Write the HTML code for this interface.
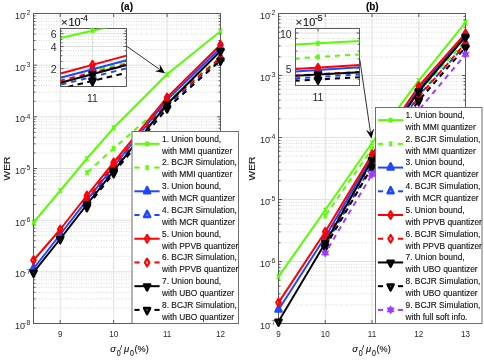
<!DOCTYPE html>
<html><head><meta charset="utf-8"><style>html,body{margin:0;padding:0;background:#fff;}body{width:484px;height:360px;overflow:hidden;}svg{display:block;will-change:transform;}</style></head>
<body>
<svg width="484" height="360" viewBox="0 0 484 360">
<rect width="484" height="360" fill="#fff"/>
<defs>
<clipPath id="ca"><rect x="33.5" y="13.5" width="187" height="310"/></clipPath>
<clipPath id="cb"><rect x="278.5" y="13.5" width="187" height="310"/></clipPath>
<clipPath id="cia"><rect x="60.5" y="28.5" width="66" height="58"/></clipPath>
<clipPath id="cib"><rect x="295.5" y="28.5" width="64" height="57"/></clipPath>
</defs>
<line x1="33.5" y1="49.61" x2="220.5" y2="49.61" stroke="#d9d9d9" stroke-width="1" stroke-dasharray="1 1.5"/>
<line x1="33.5" y1="40.52" x2="220.5" y2="40.52" stroke="#d9d9d9" stroke-width="1" stroke-dasharray="1 1.5"/>
<line x1="33.5" y1="34.06" x2="220.5" y2="34.06" stroke="#d9d9d9" stroke-width="1" stroke-dasharray="1 1.5"/>
<line x1="33.5" y1="29.05" x2="220.5" y2="29.05" stroke="#d9d9d9" stroke-width="1" stroke-dasharray="1 1.5"/>
<line x1="33.5" y1="24.96" x2="220.5" y2="24.96" stroke="#d9d9d9" stroke-width="1" stroke-dasharray="1 1.5"/>
<line x1="33.5" y1="21.5" x2="220.5" y2="21.5" stroke="#d9d9d9" stroke-width="1" stroke-dasharray="1 1.5"/>
<line x1="33.5" y1="18.51" x2="220.5" y2="18.51" stroke="#d9d9d9" stroke-width="1" stroke-dasharray="1 1.5"/>
<line x1="33.5" y1="15.86" x2="220.5" y2="15.86" stroke="#d9d9d9" stroke-width="1" stroke-dasharray="1 1.5"/>
<line x1="33.5" y1="101.28" x2="220.5" y2="101.28" stroke="#d9d9d9" stroke-width="1" stroke-dasharray="1 1.5"/>
<line x1="33.5" y1="92.18" x2="220.5" y2="92.18" stroke="#d9d9d9" stroke-width="1" stroke-dasharray="1 1.5"/>
<line x1="33.5" y1="85.73" x2="220.5" y2="85.73" stroke="#d9d9d9" stroke-width="1" stroke-dasharray="1 1.5"/>
<line x1="33.5" y1="80.72" x2="220.5" y2="80.72" stroke="#d9d9d9" stroke-width="1" stroke-dasharray="1 1.5"/>
<line x1="33.5" y1="76.63" x2="220.5" y2="76.63" stroke="#d9d9d9" stroke-width="1" stroke-dasharray="1 1.5"/>
<line x1="33.5" y1="73.17" x2="220.5" y2="73.17" stroke="#d9d9d9" stroke-width="1" stroke-dasharray="1 1.5"/>
<line x1="33.5" y1="70.17" x2="220.5" y2="70.17" stroke="#d9d9d9" stroke-width="1" stroke-dasharray="1 1.5"/>
<line x1="33.5" y1="67.53" x2="220.5" y2="67.53" stroke="#d9d9d9" stroke-width="1" stroke-dasharray="1 1.5"/>
<line x1="33.5" y1="152.95" x2="220.5" y2="152.95" stroke="#d9d9d9" stroke-width="1" stroke-dasharray="1 1.5"/>
<line x1="33.5" y1="143.85" x2="220.5" y2="143.85" stroke="#d9d9d9" stroke-width="1" stroke-dasharray="1 1.5"/>
<line x1="33.5" y1="137.39" x2="220.5" y2="137.39" stroke="#d9d9d9" stroke-width="1" stroke-dasharray="1 1.5"/>
<line x1="33.5" y1="132.39" x2="220.5" y2="132.39" stroke="#d9d9d9" stroke-width="1" stroke-dasharray="1 1.5"/>
<line x1="33.5" y1="128.3" x2="220.5" y2="128.3" stroke="#d9d9d9" stroke-width="1" stroke-dasharray="1 1.5"/>
<line x1="33.5" y1="124.84" x2="220.5" y2="124.84" stroke="#d9d9d9" stroke-width="1" stroke-dasharray="1 1.5"/>
<line x1="33.5" y1="121.84" x2="220.5" y2="121.84" stroke="#d9d9d9" stroke-width="1" stroke-dasharray="1 1.5"/>
<line x1="33.5" y1="119.2" x2="220.5" y2="119.2" stroke="#d9d9d9" stroke-width="1" stroke-dasharray="1 1.5"/>
<line x1="33.5" y1="204.61" x2="220.5" y2="204.61" stroke="#d9d9d9" stroke-width="1" stroke-dasharray="1 1.5"/>
<line x1="33.5" y1="195.52" x2="220.5" y2="195.52" stroke="#d9d9d9" stroke-width="1" stroke-dasharray="1 1.5"/>
<line x1="33.5" y1="189.06" x2="220.5" y2="189.06" stroke="#d9d9d9" stroke-width="1" stroke-dasharray="1 1.5"/>
<line x1="33.5" y1="184.05" x2="220.5" y2="184.05" stroke="#d9d9d9" stroke-width="1" stroke-dasharray="1 1.5"/>
<line x1="33.5" y1="179.96" x2="220.5" y2="179.96" stroke="#d9d9d9" stroke-width="1" stroke-dasharray="1 1.5"/>
<line x1="33.5" y1="176.5" x2="220.5" y2="176.5" stroke="#d9d9d9" stroke-width="1" stroke-dasharray="1 1.5"/>
<line x1="33.5" y1="173.51" x2="220.5" y2="173.51" stroke="#d9d9d9" stroke-width="1" stroke-dasharray="1 1.5"/>
<line x1="33.5" y1="170.86" x2="220.5" y2="170.86" stroke="#d9d9d9" stroke-width="1" stroke-dasharray="1 1.5"/>
<line x1="33.5" y1="256.28" x2="220.5" y2="256.28" stroke="#d9d9d9" stroke-width="1" stroke-dasharray="1 1.5"/>
<line x1="33.5" y1="247.18" x2="220.5" y2="247.18" stroke="#d9d9d9" stroke-width="1" stroke-dasharray="1 1.5"/>
<line x1="33.5" y1="240.73" x2="220.5" y2="240.73" stroke="#d9d9d9" stroke-width="1" stroke-dasharray="1 1.5"/>
<line x1="33.5" y1="235.72" x2="220.5" y2="235.72" stroke="#d9d9d9" stroke-width="1" stroke-dasharray="1 1.5"/>
<line x1="33.5" y1="231.63" x2="220.5" y2="231.63" stroke="#d9d9d9" stroke-width="1" stroke-dasharray="1 1.5"/>
<line x1="33.5" y1="228.17" x2="220.5" y2="228.17" stroke="#d9d9d9" stroke-width="1" stroke-dasharray="1 1.5"/>
<line x1="33.5" y1="225.17" x2="220.5" y2="225.17" stroke="#d9d9d9" stroke-width="1" stroke-dasharray="1 1.5"/>
<line x1="33.5" y1="222.53" x2="220.5" y2="222.53" stroke="#d9d9d9" stroke-width="1" stroke-dasharray="1 1.5"/>
<line x1="33.5" y1="307.95" x2="220.5" y2="307.95" stroke="#d9d9d9" stroke-width="1" stroke-dasharray="1 1.5"/>
<line x1="33.5" y1="298.85" x2="220.5" y2="298.85" stroke="#d9d9d9" stroke-width="1" stroke-dasharray="1 1.5"/>
<line x1="33.5" y1="292.39" x2="220.5" y2="292.39" stroke="#d9d9d9" stroke-width="1" stroke-dasharray="1 1.5"/>
<line x1="33.5" y1="287.39" x2="220.5" y2="287.39" stroke="#d9d9d9" stroke-width="1" stroke-dasharray="1 1.5"/>
<line x1="33.5" y1="283.3" x2="220.5" y2="283.3" stroke="#d9d9d9" stroke-width="1" stroke-dasharray="1 1.5"/>
<line x1="33.5" y1="279.84" x2="220.5" y2="279.84" stroke="#d9d9d9" stroke-width="1" stroke-dasharray="1 1.5"/>
<line x1="33.5" y1="276.84" x2="220.5" y2="276.84" stroke="#d9d9d9" stroke-width="1" stroke-dasharray="1 1.5"/>
<line x1="33.5" y1="274.2" x2="220.5" y2="274.2" stroke="#d9d9d9" stroke-width="1" stroke-dasharray="1 1.5"/>
<line x1="33.5" y1="13.5" x2="220.5" y2="13.5" stroke="#e0e0e0" stroke-width="1"/>
<line x1="33.5" y1="65.17" x2="220.5" y2="65.17" stroke="#e0e0e0" stroke-width="1"/>
<line x1="33.5" y1="116.83" x2="220.5" y2="116.83" stroke="#e0e0e0" stroke-width="1"/>
<line x1="33.5" y1="168.5" x2="220.5" y2="168.5" stroke="#e0e0e0" stroke-width="1"/>
<line x1="33.5" y1="220.17" x2="220.5" y2="220.17" stroke="#e0e0e0" stroke-width="1"/>
<line x1="33.5" y1="271.83" x2="220.5" y2="271.83" stroke="#e0e0e0" stroke-width="1"/>
<line x1="33.5" y1="323.5" x2="220.5" y2="323.5" stroke="#e0e0e0" stroke-width="1"/>
<line x1="60.21" y1="13.5" x2="60.21" y2="323.5" stroke="#e0e0e0" stroke-width="1"/>
<line x1="113.64" y1="13.5" x2="113.64" y2="323.5" stroke="#e0e0e0" stroke-width="1"/>
<line x1="167.07" y1="13.5" x2="167.07" y2="323.5" stroke="#e0e0e0" stroke-width="1"/>
<line x1="220.5" y1="13.5" x2="220.5" y2="323.5" stroke="#e0e0e0" stroke-width="1"/>
<rect x="33.5" y="13.5" width="187" height="310" fill="none" stroke="#5a5a5a" stroke-width="1"/>
<line x1="33.5" y1="13.5" x2="37" y2="13.5" stroke="#5a5a5a" stroke-width="1"/>
<line x1="217" y1="13.5" x2="220.5" y2="13.5" stroke="#5a5a5a" stroke-width="1"/>
<line x1="33.5" y1="65.17" x2="37" y2="65.17" stroke="#5a5a5a" stroke-width="1"/>
<line x1="217" y1="65.17" x2="220.5" y2="65.17" stroke="#5a5a5a" stroke-width="1"/>
<line x1="33.5" y1="116.83" x2="37" y2="116.83" stroke="#5a5a5a" stroke-width="1"/>
<line x1="217" y1="116.83" x2="220.5" y2="116.83" stroke="#5a5a5a" stroke-width="1"/>
<line x1="33.5" y1="168.5" x2="37" y2="168.5" stroke="#5a5a5a" stroke-width="1"/>
<line x1="217" y1="168.5" x2="220.5" y2="168.5" stroke="#5a5a5a" stroke-width="1"/>
<line x1="33.5" y1="220.17" x2="37" y2="220.17" stroke="#5a5a5a" stroke-width="1"/>
<line x1="217" y1="220.17" x2="220.5" y2="220.17" stroke="#5a5a5a" stroke-width="1"/>
<line x1="33.5" y1="271.83" x2="37" y2="271.83" stroke="#5a5a5a" stroke-width="1"/>
<line x1="217" y1="271.83" x2="220.5" y2="271.83" stroke="#5a5a5a" stroke-width="1"/>
<line x1="33.5" y1="323.5" x2="37" y2="323.5" stroke="#5a5a5a" stroke-width="1"/>
<line x1="217" y1="323.5" x2="220.5" y2="323.5" stroke="#5a5a5a" stroke-width="1"/>
<line x1="33.5" y1="49.61" x2="35.5" y2="49.61" stroke="#5a5a5a" stroke-width="1"/>
<line x1="218.5" y1="49.61" x2="220.5" y2="49.61" stroke="#5a5a5a" stroke-width="1"/>
<line x1="33.5" y1="40.52" x2="35.5" y2="40.52" stroke="#5a5a5a" stroke-width="1"/>
<line x1="218.5" y1="40.52" x2="220.5" y2="40.52" stroke="#5a5a5a" stroke-width="1"/>
<line x1="33.5" y1="34.06" x2="35.5" y2="34.06" stroke="#5a5a5a" stroke-width="1"/>
<line x1="218.5" y1="34.06" x2="220.5" y2="34.06" stroke="#5a5a5a" stroke-width="1"/>
<line x1="33.5" y1="29.05" x2="35.5" y2="29.05" stroke="#5a5a5a" stroke-width="1"/>
<line x1="218.5" y1="29.05" x2="220.5" y2="29.05" stroke="#5a5a5a" stroke-width="1"/>
<line x1="33.5" y1="24.96" x2="35.5" y2="24.96" stroke="#5a5a5a" stroke-width="1"/>
<line x1="218.5" y1="24.96" x2="220.5" y2="24.96" stroke="#5a5a5a" stroke-width="1"/>
<line x1="33.5" y1="21.5" x2="35.5" y2="21.5" stroke="#5a5a5a" stroke-width="1"/>
<line x1="218.5" y1="21.5" x2="220.5" y2="21.5" stroke="#5a5a5a" stroke-width="1"/>
<line x1="33.5" y1="18.51" x2="35.5" y2="18.51" stroke="#5a5a5a" stroke-width="1"/>
<line x1="218.5" y1="18.51" x2="220.5" y2="18.51" stroke="#5a5a5a" stroke-width="1"/>
<line x1="33.5" y1="15.86" x2="35.5" y2="15.86" stroke="#5a5a5a" stroke-width="1"/>
<line x1="218.5" y1="15.86" x2="220.5" y2="15.86" stroke="#5a5a5a" stroke-width="1"/>
<line x1="33.5" y1="101.28" x2="35.5" y2="101.28" stroke="#5a5a5a" stroke-width="1"/>
<line x1="218.5" y1="101.28" x2="220.5" y2="101.28" stroke="#5a5a5a" stroke-width="1"/>
<line x1="33.5" y1="92.18" x2="35.5" y2="92.18" stroke="#5a5a5a" stroke-width="1"/>
<line x1="218.5" y1="92.18" x2="220.5" y2="92.18" stroke="#5a5a5a" stroke-width="1"/>
<line x1="33.5" y1="85.73" x2="35.5" y2="85.73" stroke="#5a5a5a" stroke-width="1"/>
<line x1="218.5" y1="85.73" x2="220.5" y2="85.73" stroke="#5a5a5a" stroke-width="1"/>
<line x1="33.5" y1="80.72" x2="35.5" y2="80.72" stroke="#5a5a5a" stroke-width="1"/>
<line x1="218.5" y1="80.72" x2="220.5" y2="80.72" stroke="#5a5a5a" stroke-width="1"/>
<line x1="33.5" y1="76.63" x2="35.5" y2="76.63" stroke="#5a5a5a" stroke-width="1"/>
<line x1="218.5" y1="76.63" x2="220.5" y2="76.63" stroke="#5a5a5a" stroke-width="1"/>
<line x1="33.5" y1="73.17" x2="35.5" y2="73.17" stroke="#5a5a5a" stroke-width="1"/>
<line x1="218.5" y1="73.17" x2="220.5" y2="73.17" stroke="#5a5a5a" stroke-width="1"/>
<line x1="33.5" y1="70.17" x2="35.5" y2="70.17" stroke="#5a5a5a" stroke-width="1"/>
<line x1="218.5" y1="70.17" x2="220.5" y2="70.17" stroke="#5a5a5a" stroke-width="1"/>
<line x1="33.5" y1="67.53" x2="35.5" y2="67.53" stroke="#5a5a5a" stroke-width="1"/>
<line x1="218.5" y1="67.53" x2="220.5" y2="67.53" stroke="#5a5a5a" stroke-width="1"/>
<line x1="33.5" y1="152.95" x2="35.5" y2="152.95" stroke="#5a5a5a" stroke-width="1"/>
<line x1="218.5" y1="152.95" x2="220.5" y2="152.95" stroke="#5a5a5a" stroke-width="1"/>
<line x1="33.5" y1="143.85" x2="35.5" y2="143.85" stroke="#5a5a5a" stroke-width="1"/>
<line x1="218.5" y1="143.85" x2="220.5" y2="143.85" stroke="#5a5a5a" stroke-width="1"/>
<line x1="33.5" y1="137.39" x2="35.5" y2="137.39" stroke="#5a5a5a" stroke-width="1"/>
<line x1="218.5" y1="137.39" x2="220.5" y2="137.39" stroke="#5a5a5a" stroke-width="1"/>
<line x1="33.5" y1="132.39" x2="35.5" y2="132.39" stroke="#5a5a5a" stroke-width="1"/>
<line x1="218.5" y1="132.39" x2="220.5" y2="132.39" stroke="#5a5a5a" stroke-width="1"/>
<line x1="33.5" y1="128.3" x2="35.5" y2="128.3" stroke="#5a5a5a" stroke-width="1"/>
<line x1="218.5" y1="128.3" x2="220.5" y2="128.3" stroke="#5a5a5a" stroke-width="1"/>
<line x1="33.5" y1="124.84" x2="35.5" y2="124.84" stroke="#5a5a5a" stroke-width="1"/>
<line x1="218.5" y1="124.84" x2="220.5" y2="124.84" stroke="#5a5a5a" stroke-width="1"/>
<line x1="33.5" y1="121.84" x2="35.5" y2="121.84" stroke="#5a5a5a" stroke-width="1"/>
<line x1="218.5" y1="121.84" x2="220.5" y2="121.84" stroke="#5a5a5a" stroke-width="1"/>
<line x1="33.5" y1="119.2" x2="35.5" y2="119.2" stroke="#5a5a5a" stroke-width="1"/>
<line x1="218.5" y1="119.2" x2="220.5" y2="119.2" stroke="#5a5a5a" stroke-width="1"/>
<line x1="33.5" y1="204.61" x2="35.5" y2="204.61" stroke="#5a5a5a" stroke-width="1"/>
<line x1="218.5" y1="204.61" x2="220.5" y2="204.61" stroke="#5a5a5a" stroke-width="1"/>
<line x1="33.5" y1="195.52" x2="35.5" y2="195.52" stroke="#5a5a5a" stroke-width="1"/>
<line x1="218.5" y1="195.52" x2="220.5" y2="195.52" stroke="#5a5a5a" stroke-width="1"/>
<line x1="33.5" y1="189.06" x2="35.5" y2="189.06" stroke="#5a5a5a" stroke-width="1"/>
<line x1="218.5" y1="189.06" x2="220.5" y2="189.06" stroke="#5a5a5a" stroke-width="1"/>
<line x1="33.5" y1="184.05" x2="35.5" y2="184.05" stroke="#5a5a5a" stroke-width="1"/>
<line x1="218.5" y1="184.05" x2="220.5" y2="184.05" stroke="#5a5a5a" stroke-width="1"/>
<line x1="33.5" y1="179.96" x2="35.5" y2="179.96" stroke="#5a5a5a" stroke-width="1"/>
<line x1="218.5" y1="179.96" x2="220.5" y2="179.96" stroke="#5a5a5a" stroke-width="1"/>
<line x1="33.5" y1="176.5" x2="35.5" y2="176.5" stroke="#5a5a5a" stroke-width="1"/>
<line x1="218.5" y1="176.5" x2="220.5" y2="176.5" stroke="#5a5a5a" stroke-width="1"/>
<line x1="33.5" y1="173.51" x2="35.5" y2="173.51" stroke="#5a5a5a" stroke-width="1"/>
<line x1="218.5" y1="173.51" x2="220.5" y2="173.51" stroke="#5a5a5a" stroke-width="1"/>
<line x1="33.5" y1="170.86" x2="35.5" y2="170.86" stroke="#5a5a5a" stroke-width="1"/>
<line x1="218.5" y1="170.86" x2="220.5" y2="170.86" stroke="#5a5a5a" stroke-width="1"/>
<line x1="33.5" y1="256.28" x2="35.5" y2="256.28" stroke="#5a5a5a" stroke-width="1"/>
<line x1="218.5" y1="256.28" x2="220.5" y2="256.28" stroke="#5a5a5a" stroke-width="1"/>
<line x1="33.5" y1="247.18" x2="35.5" y2="247.18" stroke="#5a5a5a" stroke-width="1"/>
<line x1="218.5" y1="247.18" x2="220.5" y2="247.18" stroke="#5a5a5a" stroke-width="1"/>
<line x1="33.5" y1="240.73" x2="35.5" y2="240.73" stroke="#5a5a5a" stroke-width="1"/>
<line x1="218.5" y1="240.73" x2="220.5" y2="240.73" stroke="#5a5a5a" stroke-width="1"/>
<line x1="33.5" y1="235.72" x2="35.5" y2="235.72" stroke="#5a5a5a" stroke-width="1"/>
<line x1="218.5" y1="235.72" x2="220.5" y2="235.72" stroke="#5a5a5a" stroke-width="1"/>
<line x1="33.5" y1="231.63" x2="35.5" y2="231.63" stroke="#5a5a5a" stroke-width="1"/>
<line x1="218.5" y1="231.63" x2="220.5" y2="231.63" stroke="#5a5a5a" stroke-width="1"/>
<line x1="33.5" y1="228.17" x2="35.5" y2="228.17" stroke="#5a5a5a" stroke-width="1"/>
<line x1="218.5" y1="228.17" x2="220.5" y2="228.17" stroke="#5a5a5a" stroke-width="1"/>
<line x1="33.5" y1="225.17" x2="35.5" y2="225.17" stroke="#5a5a5a" stroke-width="1"/>
<line x1="218.5" y1="225.17" x2="220.5" y2="225.17" stroke="#5a5a5a" stroke-width="1"/>
<line x1="33.5" y1="222.53" x2="35.5" y2="222.53" stroke="#5a5a5a" stroke-width="1"/>
<line x1="218.5" y1="222.53" x2="220.5" y2="222.53" stroke="#5a5a5a" stroke-width="1"/>
<line x1="33.5" y1="307.95" x2="35.5" y2="307.95" stroke="#5a5a5a" stroke-width="1"/>
<line x1="218.5" y1="307.95" x2="220.5" y2="307.95" stroke="#5a5a5a" stroke-width="1"/>
<line x1="33.5" y1="298.85" x2="35.5" y2="298.85" stroke="#5a5a5a" stroke-width="1"/>
<line x1="218.5" y1="298.85" x2="220.5" y2="298.85" stroke="#5a5a5a" stroke-width="1"/>
<line x1="33.5" y1="292.39" x2="35.5" y2="292.39" stroke="#5a5a5a" stroke-width="1"/>
<line x1="218.5" y1="292.39" x2="220.5" y2="292.39" stroke="#5a5a5a" stroke-width="1"/>
<line x1="33.5" y1="287.39" x2="35.5" y2="287.39" stroke="#5a5a5a" stroke-width="1"/>
<line x1="218.5" y1="287.39" x2="220.5" y2="287.39" stroke="#5a5a5a" stroke-width="1"/>
<line x1="33.5" y1="283.3" x2="35.5" y2="283.3" stroke="#5a5a5a" stroke-width="1"/>
<line x1="218.5" y1="283.3" x2="220.5" y2="283.3" stroke="#5a5a5a" stroke-width="1"/>
<line x1="33.5" y1="279.84" x2="35.5" y2="279.84" stroke="#5a5a5a" stroke-width="1"/>
<line x1="218.5" y1="279.84" x2="220.5" y2="279.84" stroke="#5a5a5a" stroke-width="1"/>
<line x1="33.5" y1="276.84" x2="35.5" y2="276.84" stroke="#5a5a5a" stroke-width="1"/>
<line x1="218.5" y1="276.84" x2="220.5" y2="276.84" stroke="#5a5a5a" stroke-width="1"/>
<line x1="33.5" y1="274.2" x2="35.5" y2="274.2" stroke="#5a5a5a" stroke-width="1"/>
<line x1="218.5" y1="274.2" x2="220.5" y2="274.2" stroke="#5a5a5a" stroke-width="1"/>
<line x1="60.21" y1="320" x2="60.21" y2="323.5" stroke="#5a5a5a" stroke-width="1"/>
<line x1="60.21" y1="13.5" x2="60.21" y2="17" stroke="#5a5a5a" stroke-width="1"/>
<line x1="113.64" y1="320" x2="113.64" y2="323.5" stroke="#5a5a5a" stroke-width="1"/>
<line x1="113.64" y1="13.5" x2="113.64" y2="17" stroke="#5a5a5a" stroke-width="1"/>
<line x1="167.07" y1="320" x2="167.07" y2="323.5" stroke="#5a5a5a" stroke-width="1"/>
<line x1="167.07" y1="13.5" x2="167.07" y2="17" stroke="#5a5a5a" stroke-width="1"/>
<line x1="220.5" y1="320" x2="220.5" y2="323.5" stroke="#5a5a5a" stroke-width="1"/>
<line x1="220.5" y1="13.5" x2="220.5" y2="17" stroke="#5a5a5a" stroke-width="1"/>
<path d="M33.5 222.5L60.21 190.6L86.93 158.5L113.64 127.8L167.07 74.3L220.5 31.2" fill="none" stroke="#55ff00" stroke-width="2.0" stroke-linejoin="round" clip-path="url(#ca)"/>
<path d="M32 220.1L35 224.9M32 224.9L35 220.1" stroke="#55ff00" stroke-width="1.7" fill="none"/>
<path d="M58.71 188.2L61.71 193M58.71 193L61.71 188.2" stroke="#55ff00" stroke-width="1.7" fill="none"/>
<path d="M85.43 156.1L88.43 160.9M85.43 160.9L88.43 156.1" stroke="#55ff00" stroke-width="1.7" fill="none"/>
<path d="M112.14 125.4L115.14 130.2M112.14 130.2L115.14 125.4" stroke="#55ff00" stroke-width="1.7" fill="none"/>
<path d="M165.57 71.9L168.57 76.7M165.57 76.7L168.57 71.9" stroke="#55ff00" stroke-width="1.7" fill="none"/>
<path d="M219 28.8L222 33.6M219 33.6L222 28.8" stroke="#55ff00" stroke-width="1.7" fill="none"/>
<path d="M87.23 172.43L91.29 168.73M94.99 165.36L99.06 161.66M102.76 158.3L106.83 154.6M110.53 151.23L113.64 148.4L114.61 147.55M118.38 144.27L122.53 140.65M126.29 137.36L130.44 133.75M134.21 130.46L138.35 126.85M142.12 123.56L146.27 119.95M150.03 116.66L154.18 113.04M157.95 109.76L162.09 106.14M165.86 102.86L167.07 101.8L170.07 99.32M173.92 96.12L178.15 92.61M182 89.42L186.23 85.91M190.08 82.72L194.32 79.21M198.17 76.02L202.4 72.51M206.25 69.32L210.48 65.81M214.33 62.61L218.57 59.1" fill="none" stroke="#55ff00" stroke-width="2.0" stroke-linejoin="round" clip-path="url(#ca)"/>
<path d="M85.43 170.3L88.43 175.1M85.43 175.1L88.43 170.3" stroke="#55ff00" stroke-width="1.7" fill="none"/>
<path d="M112.14 146L115.14 150.8M112.14 150.8L115.14 146" stroke="#55ff00" stroke-width="1.7" fill="none"/>
<path d="M165.57 99.4L168.57 104.2M165.57 104.2L168.57 99.4" stroke="#55ff00" stroke-width="1.7" fill="none"/>
<path d="M219 55.1L222 59.9M219 59.9L222 55.1" stroke="#55ff00" stroke-width="1.7" fill="none"/>
<path d="M33.5 268.7L60.21 234.5L86.93 200.2L113.64 166.5L167.07 99.9L220.5 48" fill="none" stroke="#1f47ff" stroke-width="2.0" stroke-linejoin="round" clip-path="url(#ca)"/>
<path d="M33.5 264.5L36.5 270.6L30.5 270.6Z" fill="#1f47ff" fill-opacity="0.55" stroke="#1f47ff" stroke-width="2.5" stroke-linejoin="round"/>
<path d="M60.21 230.3L63.21 236.4L57.21 236.4Z" fill="#1f47ff" fill-opacity="0.55" stroke="#1f47ff" stroke-width="2.5" stroke-linejoin="round"/>
<path d="M86.93 196L89.93 202.1L83.93 202.1Z" fill="#1f47ff" fill-opacity="0.55" stroke="#1f47ff" stroke-width="2.5" stroke-linejoin="round"/>
<path d="M113.64 162.3L116.64 168.4L110.64 168.4Z" fill="#1f47ff" fill-opacity="0.55" stroke="#1f47ff" stroke-width="2.5" stroke-linejoin="round"/>
<path d="M167.07 95.7L170.07 101.8L164.07 101.8Z" fill="#1f47ff" fill-opacity="0.55" stroke="#1f47ff" stroke-width="2.5" stroke-linejoin="round"/>
<path d="M220.5 43.8L223.5 49.9L217.5 49.9Z" fill="#1f47ff" fill-opacity="0.55" stroke="#1f47ff" stroke-width="2.5" stroke-linejoin="round"/>
<path d="M86.93 202.5L89.66 199.02M92.75 195.09L96.15 190.77M99.24 186.83L102.64 182.51M105.73 178.58L109.12 174.25M112.21 170.32L113.64 168.5L115.7 166.07M118.94 162.26L122.5 158.07M125.74 154.26L129.3 150.07M132.54 146.26L136.1 142.06M139.33 138.25L142.89 134.06M146.13 130.25L149.69 126.06M152.93 122.25L156.49 118.06M159.73 114.25L163.29 110.05M166.52 106.24L167.07 105.6L170.57 102.53M174.33 99.24L178.47 95.61M182.23 92.32L186.37 88.7M190.13 85.4L194.27 81.78M198.03 78.48L202.17 74.86M205.93 71.56L210.07 67.94M213.83 64.65L217.96 61.02" fill="none" stroke="#1f47ff" stroke-width="2.0" stroke-linejoin="round" clip-path="url(#ca)"/>
<path d="M86.93 198.3L89.93 204.4L83.93 204.4Z" fill="#1f47ff" fill-opacity="0.55" stroke="#1f47ff" stroke-width="2.5" stroke-linejoin="round"/>
<path d="M113.64 164.3L116.64 170.4L110.64 170.4Z" fill="#1f47ff" fill-opacity="0.55" stroke="#1f47ff" stroke-width="2.5" stroke-linejoin="round"/>
<path d="M167.07 101.4L170.07 107.5L164.07 107.5Z" fill="#1f47ff" fill-opacity="0.55" stroke="#1f47ff" stroke-width="2.5" stroke-linejoin="round"/>
<path d="M220.5 54.6L223.5 60.7L217.5 60.7Z" fill="#1f47ff" fill-opacity="0.55" stroke="#1f47ff" stroke-width="2.5" stroke-linejoin="round"/>
<path d="M33.5 260.3L60.21 229.5L86.93 195.5L113.64 162.5L167.07 97.5L220.5 44.8" fill="none" stroke="#ff0000" stroke-width="2.0" stroke-linejoin="round" clip-path="url(#ca)"/>
<path d="M33.5 256.3L35.9 260.3L33.5 264.3L31.1 260.3Z" fill="#ff0000" fill-opacity="0.35" stroke="#ff0000" stroke-width="1.9" stroke-linejoin="round"/>
<path d="M60.21 225.5L62.61 229.5L60.21 233.5L57.81 229.5Z" fill="#ff0000" fill-opacity="0.35" stroke="#ff0000" stroke-width="1.9" stroke-linejoin="round"/>
<path d="M86.93 191.5L89.33 195.5L86.93 199.5L84.53 195.5Z" fill="#ff0000" fill-opacity="0.35" stroke="#ff0000" stroke-width="1.9" stroke-linejoin="round"/>
<path d="M113.64 158.5L116.04 162.5L113.64 166.5L111.24 162.5Z" fill="#ff0000" fill-opacity="0.35" stroke="#ff0000" stroke-width="1.9" stroke-linejoin="round"/>
<path d="M167.07 93.5L169.47 97.5L167.07 101.5L164.67 97.5Z" fill="#ff0000" fill-opacity="0.35" stroke="#ff0000" stroke-width="1.9" stroke-linejoin="round"/>
<path d="M220.5 40.8L222.9 44.8L220.5 48.8L218.1 44.8Z" fill="#ff0000" fill-opacity="0.35" stroke="#ff0000" stroke-width="1.9" stroke-linejoin="round"/>
<path d="M86.93 199L88.82 196.59M91.91 192.66L95.31 188.33M98.4 184.4L101.8 180.07M104.89 176.14L108.29 171.82M111.37 167.89L113.64 165L114.84 163.62M118.12 159.84L121.72 155.69M125 151.91L128.6 147.75M131.88 143.98L135.48 139.82M138.76 136.05L142.36 131.89M145.64 128.11L149.24 123.96M152.52 120.18L156.12 116.03M159.4 112.25L163 108.09M166.28 104.32L167.07 103.4L170.33 100.62M174.13 97.37L178.32 93.8M182.12 90.56L186.31 86.98M190.11 83.74L194.29 80.17M198.09 76.92L202.28 73.35M206.08 70.11L210.27 66.54M214.07 63.29L218.25 59.72" fill="none" stroke="#ff0000" stroke-width="2.0" stroke-linejoin="round" clip-path="url(#ca)"/>
<path d="M86.93 195L89.33 199L86.93 203L84.53 199Z" fill="#ff0000" fill-opacity="0.35" stroke="#ff0000" stroke-width="1.9" stroke-linejoin="round"/>
<path d="M113.64 161L116.04 165L113.64 169L111.24 165Z" fill="#ff0000" fill-opacity="0.35" stroke="#ff0000" stroke-width="1.9" stroke-linejoin="round"/>
<path d="M167.07 99.4L169.47 103.4L167.07 107.4L164.67 103.4Z" fill="#ff0000" fill-opacity="0.35" stroke="#ff0000" stroke-width="1.9" stroke-linejoin="round"/>
<path d="M220.5 53.8L222.9 57.8L220.5 61.8L218.1 57.8Z" fill="#ff0000" fill-opacity="0.35" stroke="#ff0000" stroke-width="1.9" stroke-linejoin="round"/>
<path d="M33.5 272.5L60.21 239L86.93 204.5L113.64 170.8L167.07 104.2L220.5 51" fill="none" stroke="#000000" stroke-width="2.0" stroke-linejoin="round" clip-path="url(#ca)"/>
<path d="M33.5 276.8L36.55 270.7L30.45 270.7Z" fill="#000000" fill-opacity="0.55" stroke="#000000" stroke-width="2.5" stroke-linejoin="round"/>
<path d="M60.21 243.3L63.26 237.2L57.16 237.2Z" fill="#000000" fill-opacity="0.55" stroke="#000000" stroke-width="2.5" stroke-linejoin="round"/>
<path d="M86.93 208.8L89.98 202.7L83.88 202.7Z" fill="#000000" fill-opacity="0.55" stroke="#000000" stroke-width="2.5" stroke-linejoin="round"/>
<path d="M113.64 175.1L116.69 169L110.59 169Z" fill="#000000" fill-opacity="0.55" stroke="#000000" stroke-width="2.5" stroke-linejoin="round"/>
<path d="M167.07 108.5L170.12 102.4L164.02 102.4Z" fill="#000000" fill-opacity="0.55" stroke="#000000" stroke-width="2.5" stroke-linejoin="round"/>
<path d="M220.5 55.3L223.55 49.2L217.45 49.2Z" fill="#000000" fill-opacity="0.55" stroke="#000000" stroke-width="2.5" stroke-linejoin="round"/>
<path d="M87.34 206.48L90.74 202.16M93.82 198.22L97.22 193.9M100.31 189.97L103.71 185.64M106.8 181.71L110.2 177.39M113.29 173.45L113.64 173L116.77 169.2M119.95 165.34L123.45 161.1M126.63 157.24L130.13 153M133.31 149.14L136.81 144.9M139.99 141.04L143.49 136.8M146.67 132.94L150.17 128.7M153.35 124.84L156.85 120.59M160.03 116.74L163.53 112.49M166.71 108.64L167.07 108.2L170.75 104.91M174.48 101.58L178.59 97.92M182.32 94.59L186.42 90.93M190.15 87.6L194.25 83.93M197.98 80.6L202.08 76.94M205.81 73.61L209.92 69.95M213.65 66.62L217.75 62.96" fill="none" stroke="#000000" stroke-width="2.0" stroke-linejoin="round" clip-path="url(#ca)"/>
<path d="M86.93 211.3L89.98 205.2L83.88 205.2Z" fill="#000000" fill-opacity="0.55" stroke="#000000" stroke-width="2.5" stroke-linejoin="round"/>
<path d="M113.64 177.3L116.69 171.2L110.59 171.2Z" fill="#000000" fill-opacity="0.55" stroke="#000000" stroke-width="2.5" stroke-linejoin="round"/>
<path d="M167.07 112.5L170.12 106.4L164.02 106.4Z" fill="#000000" fill-opacity="0.55" stroke="#000000" stroke-width="2.5" stroke-linejoin="round"/>
<path d="M220.5 64.8L223.55 58.7L217.45 58.7Z" fill="#000000" fill-opacity="0.55" stroke="#000000" stroke-width="2.5" stroke-linejoin="round"/>
<text x="25.1" y="18.9" font-size="9" text-anchor="end" fill="#2a2a2a" font-family="Liberation Sans, sans-serif">10</text>
<text x="30.3" y="15.3" font-size="7" text-anchor="end" fill="#2a2a2a" font-family="Liberation Sans, sans-serif">-2</text>
<text x="25.1" y="70.57" font-size="9" text-anchor="end" fill="#2a2a2a" font-family="Liberation Sans, sans-serif">10</text>
<text x="30.3" y="66.97" font-size="7" text-anchor="end" fill="#2a2a2a" font-family="Liberation Sans, sans-serif">-3</text>
<text x="25.1" y="122.23" font-size="9" text-anchor="end" fill="#2a2a2a" font-family="Liberation Sans, sans-serif">10</text>
<text x="30.3" y="118.63" font-size="7" text-anchor="end" fill="#2a2a2a" font-family="Liberation Sans, sans-serif">-4</text>
<text x="25.1" y="173.9" font-size="9" text-anchor="end" fill="#2a2a2a" font-family="Liberation Sans, sans-serif">10</text>
<text x="30.3" y="170.3" font-size="7" text-anchor="end" fill="#2a2a2a" font-family="Liberation Sans, sans-serif">-5</text>
<text x="25.1" y="225.57" font-size="9" text-anchor="end" fill="#2a2a2a" font-family="Liberation Sans, sans-serif">10</text>
<text x="30.3" y="221.97" font-size="7" text-anchor="end" fill="#2a2a2a" font-family="Liberation Sans, sans-serif">-6</text>
<text x="25.1" y="277.23" font-size="9" text-anchor="end" fill="#2a2a2a" font-family="Liberation Sans, sans-serif">10</text>
<text x="30.3" y="273.63" font-size="7" text-anchor="end" fill="#2a2a2a" font-family="Liberation Sans, sans-serif">-7</text>
<text x="25.1" y="328.9" font-size="9" text-anchor="end" fill="#2a2a2a" font-family="Liberation Sans, sans-serif">10</text>
<text x="30.3" y="325.3" font-size="7" text-anchor="end" fill="#2a2a2a" font-family="Liberation Sans, sans-serif">-8</text>
<text transform="translate(60.21,336.6) scale(0.87,1)" font-size="9.3" text-anchor="middle" fill="#2a2a2a" font-family="Liberation Sans, sans-serif">9</text>
<text transform="translate(113.64,336.6) scale(0.87,1)" font-size="9.3" text-anchor="middle" fill="#2a2a2a" font-family="Liberation Sans, sans-serif">10</text>
<text transform="translate(167.07,336.6) scale(0.87,1)" font-size="9.3" text-anchor="middle" fill="#2a2a2a" font-family="Liberation Sans, sans-serif">11</text>
<text transform="translate(220.5,336.6) scale(0.87,1)" font-size="9.3" text-anchor="middle" fill="#2a2a2a" font-family="Liberation Sans, sans-serif">12</text>
<line x1="278.5" y1="56.84" x2="465.5" y2="56.84" stroke="#d9d9d9" stroke-width="1" stroke-dasharray="1 1.5"/>
<line x1="278.5" y1="45.92" x2="465.5" y2="45.92" stroke="#d9d9d9" stroke-width="1" stroke-dasharray="1 1.5"/>
<line x1="278.5" y1="38.17" x2="465.5" y2="38.17" stroke="#d9d9d9" stroke-width="1" stroke-dasharray="1 1.5"/>
<line x1="278.5" y1="32.16" x2="465.5" y2="32.16" stroke="#d9d9d9" stroke-width="1" stroke-dasharray="1 1.5"/>
<line x1="278.5" y1="27.25" x2="465.5" y2="27.25" stroke="#d9d9d9" stroke-width="1" stroke-dasharray="1 1.5"/>
<line x1="278.5" y1="23.1" x2="465.5" y2="23.1" stroke="#d9d9d9" stroke-width="1" stroke-dasharray="1 1.5"/>
<line x1="278.5" y1="19.51" x2="465.5" y2="19.51" stroke="#d9d9d9" stroke-width="1" stroke-dasharray="1 1.5"/>
<line x1="278.5" y1="16.34" x2="465.5" y2="16.34" stroke="#d9d9d9" stroke-width="1" stroke-dasharray="1 1.5"/>
<line x1="278.5" y1="118.84" x2="465.5" y2="118.84" stroke="#d9d9d9" stroke-width="1" stroke-dasharray="1 1.5"/>
<line x1="278.5" y1="107.92" x2="465.5" y2="107.92" stroke="#d9d9d9" stroke-width="1" stroke-dasharray="1 1.5"/>
<line x1="278.5" y1="100.17" x2="465.5" y2="100.17" stroke="#d9d9d9" stroke-width="1" stroke-dasharray="1 1.5"/>
<line x1="278.5" y1="94.16" x2="465.5" y2="94.16" stroke="#d9d9d9" stroke-width="1" stroke-dasharray="1 1.5"/>
<line x1="278.5" y1="89.25" x2="465.5" y2="89.25" stroke="#d9d9d9" stroke-width="1" stroke-dasharray="1 1.5"/>
<line x1="278.5" y1="85.1" x2="465.5" y2="85.1" stroke="#d9d9d9" stroke-width="1" stroke-dasharray="1 1.5"/>
<line x1="278.5" y1="81.51" x2="465.5" y2="81.51" stroke="#d9d9d9" stroke-width="1" stroke-dasharray="1 1.5"/>
<line x1="278.5" y1="78.34" x2="465.5" y2="78.34" stroke="#d9d9d9" stroke-width="1" stroke-dasharray="1 1.5"/>
<line x1="278.5" y1="180.84" x2="465.5" y2="180.84" stroke="#d9d9d9" stroke-width="1" stroke-dasharray="1 1.5"/>
<line x1="278.5" y1="169.92" x2="465.5" y2="169.92" stroke="#d9d9d9" stroke-width="1" stroke-dasharray="1 1.5"/>
<line x1="278.5" y1="162.17" x2="465.5" y2="162.17" stroke="#d9d9d9" stroke-width="1" stroke-dasharray="1 1.5"/>
<line x1="278.5" y1="156.16" x2="465.5" y2="156.16" stroke="#d9d9d9" stroke-width="1" stroke-dasharray="1 1.5"/>
<line x1="278.5" y1="151.25" x2="465.5" y2="151.25" stroke="#d9d9d9" stroke-width="1" stroke-dasharray="1 1.5"/>
<line x1="278.5" y1="147.1" x2="465.5" y2="147.1" stroke="#d9d9d9" stroke-width="1" stroke-dasharray="1 1.5"/>
<line x1="278.5" y1="143.51" x2="465.5" y2="143.51" stroke="#d9d9d9" stroke-width="1" stroke-dasharray="1 1.5"/>
<line x1="278.5" y1="140.34" x2="465.5" y2="140.34" stroke="#d9d9d9" stroke-width="1" stroke-dasharray="1 1.5"/>
<line x1="278.5" y1="242.84" x2="465.5" y2="242.84" stroke="#d9d9d9" stroke-width="1" stroke-dasharray="1 1.5"/>
<line x1="278.5" y1="231.92" x2="465.5" y2="231.92" stroke="#d9d9d9" stroke-width="1" stroke-dasharray="1 1.5"/>
<line x1="278.5" y1="224.17" x2="465.5" y2="224.17" stroke="#d9d9d9" stroke-width="1" stroke-dasharray="1 1.5"/>
<line x1="278.5" y1="218.16" x2="465.5" y2="218.16" stroke="#d9d9d9" stroke-width="1" stroke-dasharray="1 1.5"/>
<line x1="278.5" y1="213.25" x2="465.5" y2="213.25" stroke="#d9d9d9" stroke-width="1" stroke-dasharray="1 1.5"/>
<line x1="278.5" y1="209.1" x2="465.5" y2="209.1" stroke="#d9d9d9" stroke-width="1" stroke-dasharray="1 1.5"/>
<line x1="278.5" y1="205.51" x2="465.5" y2="205.51" stroke="#d9d9d9" stroke-width="1" stroke-dasharray="1 1.5"/>
<line x1="278.5" y1="202.34" x2="465.5" y2="202.34" stroke="#d9d9d9" stroke-width="1" stroke-dasharray="1 1.5"/>
<line x1="278.5" y1="304.84" x2="465.5" y2="304.84" stroke="#d9d9d9" stroke-width="1" stroke-dasharray="1 1.5"/>
<line x1="278.5" y1="293.92" x2="465.5" y2="293.92" stroke="#d9d9d9" stroke-width="1" stroke-dasharray="1 1.5"/>
<line x1="278.5" y1="286.17" x2="465.5" y2="286.17" stroke="#d9d9d9" stroke-width="1" stroke-dasharray="1 1.5"/>
<line x1="278.5" y1="280.16" x2="465.5" y2="280.16" stroke="#d9d9d9" stroke-width="1" stroke-dasharray="1 1.5"/>
<line x1="278.5" y1="275.25" x2="465.5" y2="275.25" stroke="#d9d9d9" stroke-width="1" stroke-dasharray="1 1.5"/>
<line x1="278.5" y1="271.1" x2="465.5" y2="271.1" stroke="#d9d9d9" stroke-width="1" stroke-dasharray="1 1.5"/>
<line x1="278.5" y1="267.51" x2="465.5" y2="267.51" stroke="#d9d9d9" stroke-width="1" stroke-dasharray="1 1.5"/>
<line x1="278.5" y1="264.34" x2="465.5" y2="264.34" stroke="#d9d9d9" stroke-width="1" stroke-dasharray="1 1.5"/>
<line x1="278.5" y1="13.5" x2="465.5" y2="13.5" stroke="#e0e0e0" stroke-width="1"/>
<line x1="278.5" y1="75.5" x2="465.5" y2="75.5" stroke="#e0e0e0" stroke-width="1"/>
<line x1="278.5" y1="137.5" x2="465.5" y2="137.5" stroke="#e0e0e0" stroke-width="1"/>
<line x1="278.5" y1="199.5" x2="465.5" y2="199.5" stroke="#e0e0e0" stroke-width="1"/>
<line x1="278.5" y1="261.5" x2="465.5" y2="261.5" stroke="#e0e0e0" stroke-width="1"/>
<line x1="278.5" y1="323.5" x2="465.5" y2="323.5" stroke="#e0e0e0" stroke-width="1"/>
<line x1="325.25" y1="13.5" x2="325.25" y2="323.5" stroke="#e0e0e0" stroke-width="1"/>
<line x1="372" y1="13.5" x2="372" y2="323.5" stroke="#e0e0e0" stroke-width="1"/>
<line x1="418.75" y1="13.5" x2="418.75" y2="323.5" stroke="#e0e0e0" stroke-width="1"/>
<rect x="278.5" y="13.5" width="187" height="310" fill="none" stroke="#5a5a5a" stroke-width="1"/>
<line x1="278.5" y1="13.5" x2="282" y2="13.5" stroke="#5a5a5a" stroke-width="1"/>
<line x1="462" y1="13.5" x2="465.5" y2="13.5" stroke="#5a5a5a" stroke-width="1"/>
<line x1="278.5" y1="75.5" x2="282" y2="75.5" stroke="#5a5a5a" stroke-width="1"/>
<line x1="462" y1="75.5" x2="465.5" y2="75.5" stroke="#5a5a5a" stroke-width="1"/>
<line x1="278.5" y1="137.5" x2="282" y2="137.5" stroke="#5a5a5a" stroke-width="1"/>
<line x1="462" y1="137.5" x2="465.5" y2="137.5" stroke="#5a5a5a" stroke-width="1"/>
<line x1="278.5" y1="199.5" x2="282" y2="199.5" stroke="#5a5a5a" stroke-width="1"/>
<line x1="462" y1="199.5" x2="465.5" y2="199.5" stroke="#5a5a5a" stroke-width="1"/>
<line x1="278.5" y1="261.5" x2="282" y2="261.5" stroke="#5a5a5a" stroke-width="1"/>
<line x1="462" y1="261.5" x2="465.5" y2="261.5" stroke="#5a5a5a" stroke-width="1"/>
<line x1="278.5" y1="323.5" x2="282" y2="323.5" stroke="#5a5a5a" stroke-width="1"/>
<line x1="462" y1="323.5" x2="465.5" y2="323.5" stroke="#5a5a5a" stroke-width="1"/>
<line x1="278.5" y1="56.84" x2="280.5" y2="56.84" stroke="#5a5a5a" stroke-width="1"/>
<line x1="463.5" y1="56.84" x2="465.5" y2="56.84" stroke="#5a5a5a" stroke-width="1"/>
<line x1="278.5" y1="45.92" x2="280.5" y2="45.92" stroke="#5a5a5a" stroke-width="1"/>
<line x1="463.5" y1="45.92" x2="465.5" y2="45.92" stroke="#5a5a5a" stroke-width="1"/>
<line x1="278.5" y1="38.17" x2="280.5" y2="38.17" stroke="#5a5a5a" stroke-width="1"/>
<line x1="463.5" y1="38.17" x2="465.5" y2="38.17" stroke="#5a5a5a" stroke-width="1"/>
<line x1="278.5" y1="32.16" x2="280.5" y2="32.16" stroke="#5a5a5a" stroke-width="1"/>
<line x1="463.5" y1="32.16" x2="465.5" y2="32.16" stroke="#5a5a5a" stroke-width="1"/>
<line x1="278.5" y1="27.25" x2="280.5" y2="27.25" stroke="#5a5a5a" stroke-width="1"/>
<line x1="463.5" y1="27.25" x2="465.5" y2="27.25" stroke="#5a5a5a" stroke-width="1"/>
<line x1="278.5" y1="23.1" x2="280.5" y2="23.1" stroke="#5a5a5a" stroke-width="1"/>
<line x1="463.5" y1="23.1" x2="465.5" y2="23.1" stroke="#5a5a5a" stroke-width="1"/>
<line x1="278.5" y1="19.51" x2="280.5" y2="19.51" stroke="#5a5a5a" stroke-width="1"/>
<line x1="463.5" y1="19.51" x2="465.5" y2="19.51" stroke="#5a5a5a" stroke-width="1"/>
<line x1="278.5" y1="16.34" x2="280.5" y2="16.34" stroke="#5a5a5a" stroke-width="1"/>
<line x1="463.5" y1="16.34" x2="465.5" y2="16.34" stroke="#5a5a5a" stroke-width="1"/>
<line x1="278.5" y1="118.84" x2="280.5" y2="118.84" stroke="#5a5a5a" stroke-width="1"/>
<line x1="463.5" y1="118.84" x2="465.5" y2="118.84" stroke="#5a5a5a" stroke-width="1"/>
<line x1="278.5" y1="107.92" x2="280.5" y2="107.92" stroke="#5a5a5a" stroke-width="1"/>
<line x1="463.5" y1="107.92" x2="465.5" y2="107.92" stroke="#5a5a5a" stroke-width="1"/>
<line x1="278.5" y1="100.17" x2="280.5" y2="100.17" stroke="#5a5a5a" stroke-width="1"/>
<line x1="463.5" y1="100.17" x2="465.5" y2="100.17" stroke="#5a5a5a" stroke-width="1"/>
<line x1="278.5" y1="94.16" x2="280.5" y2="94.16" stroke="#5a5a5a" stroke-width="1"/>
<line x1="463.5" y1="94.16" x2="465.5" y2="94.16" stroke="#5a5a5a" stroke-width="1"/>
<line x1="278.5" y1="89.25" x2="280.5" y2="89.25" stroke="#5a5a5a" stroke-width="1"/>
<line x1="463.5" y1="89.25" x2="465.5" y2="89.25" stroke="#5a5a5a" stroke-width="1"/>
<line x1="278.5" y1="85.1" x2="280.5" y2="85.1" stroke="#5a5a5a" stroke-width="1"/>
<line x1="463.5" y1="85.1" x2="465.5" y2="85.1" stroke="#5a5a5a" stroke-width="1"/>
<line x1="278.5" y1="81.51" x2="280.5" y2="81.51" stroke="#5a5a5a" stroke-width="1"/>
<line x1="463.5" y1="81.51" x2="465.5" y2="81.51" stroke="#5a5a5a" stroke-width="1"/>
<line x1="278.5" y1="78.34" x2="280.5" y2="78.34" stroke="#5a5a5a" stroke-width="1"/>
<line x1="463.5" y1="78.34" x2="465.5" y2="78.34" stroke="#5a5a5a" stroke-width="1"/>
<line x1="278.5" y1="180.84" x2="280.5" y2="180.84" stroke="#5a5a5a" stroke-width="1"/>
<line x1="463.5" y1="180.84" x2="465.5" y2="180.84" stroke="#5a5a5a" stroke-width="1"/>
<line x1="278.5" y1="169.92" x2="280.5" y2="169.92" stroke="#5a5a5a" stroke-width="1"/>
<line x1="463.5" y1="169.92" x2="465.5" y2="169.92" stroke="#5a5a5a" stroke-width="1"/>
<line x1="278.5" y1="162.17" x2="280.5" y2="162.17" stroke="#5a5a5a" stroke-width="1"/>
<line x1="463.5" y1="162.17" x2="465.5" y2="162.17" stroke="#5a5a5a" stroke-width="1"/>
<line x1="278.5" y1="156.16" x2="280.5" y2="156.16" stroke="#5a5a5a" stroke-width="1"/>
<line x1="463.5" y1="156.16" x2="465.5" y2="156.16" stroke="#5a5a5a" stroke-width="1"/>
<line x1="278.5" y1="151.25" x2="280.5" y2="151.25" stroke="#5a5a5a" stroke-width="1"/>
<line x1="463.5" y1="151.25" x2="465.5" y2="151.25" stroke="#5a5a5a" stroke-width="1"/>
<line x1="278.5" y1="147.1" x2="280.5" y2="147.1" stroke="#5a5a5a" stroke-width="1"/>
<line x1="463.5" y1="147.1" x2="465.5" y2="147.1" stroke="#5a5a5a" stroke-width="1"/>
<line x1="278.5" y1="143.51" x2="280.5" y2="143.51" stroke="#5a5a5a" stroke-width="1"/>
<line x1="463.5" y1="143.51" x2="465.5" y2="143.51" stroke="#5a5a5a" stroke-width="1"/>
<line x1="278.5" y1="140.34" x2="280.5" y2="140.34" stroke="#5a5a5a" stroke-width="1"/>
<line x1="463.5" y1="140.34" x2="465.5" y2="140.34" stroke="#5a5a5a" stroke-width="1"/>
<line x1="278.5" y1="242.84" x2="280.5" y2="242.84" stroke="#5a5a5a" stroke-width="1"/>
<line x1="463.5" y1="242.84" x2="465.5" y2="242.84" stroke="#5a5a5a" stroke-width="1"/>
<line x1="278.5" y1="231.92" x2="280.5" y2="231.92" stroke="#5a5a5a" stroke-width="1"/>
<line x1="463.5" y1="231.92" x2="465.5" y2="231.92" stroke="#5a5a5a" stroke-width="1"/>
<line x1="278.5" y1="224.17" x2="280.5" y2="224.17" stroke="#5a5a5a" stroke-width="1"/>
<line x1="463.5" y1="224.17" x2="465.5" y2="224.17" stroke="#5a5a5a" stroke-width="1"/>
<line x1="278.5" y1="218.16" x2="280.5" y2="218.16" stroke="#5a5a5a" stroke-width="1"/>
<line x1="463.5" y1="218.16" x2="465.5" y2="218.16" stroke="#5a5a5a" stroke-width="1"/>
<line x1="278.5" y1="213.25" x2="280.5" y2="213.25" stroke="#5a5a5a" stroke-width="1"/>
<line x1="463.5" y1="213.25" x2="465.5" y2="213.25" stroke="#5a5a5a" stroke-width="1"/>
<line x1="278.5" y1="209.1" x2="280.5" y2="209.1" stroke="#5a5a5a" stroke-width="1"/>
<line x1="463.5" y1="209.1" x2="465.5" y2="209.1" stroke="#5a5a5a" stroke-width="1"/>
<line x1="278.5" y1="205.51" x2="280.5" y2="205.51" stroke="#5a5a5a" stroke-width="1"/>
<line x1="463.5" y1="205.51" x2="465.5" y2="205.51" stroke="#5a5a5a" stroke-width="1"/>
<line x1="278.5" y1="202.34" x2="280.5" y2="202.34" stroke="#5a5a5a" stroke-width="1"/>
<line x1="463.5" y1="202.34" x2="465.5" y2="202.34" stroke="#5a5a5a" stroke-width="1"/>
<line x1="278.5" y1="304.84" x2="280.5" y2="304.84" stroke="#5a5a5a" stroke-width="1"/>
<line x1="463.5" y1="304.84" x2="465.5" y2="304.84" stroke="#5a5a5a" stroke-width="1"/>
<line x1="278.5" y1="293.92" x2="280.5" y2="293.92" stroke="#5a5a5a" stroke-width="1"/>
<line x1="463.5" y1="293.92" x2="465.5" y2="293.92" stroke="#5a5a5a" stroke-width="1"/>
<line x1="278.5" y1="286.17" x2="280.5" y2="286.17" stroke="#5a5a5a" stroke-width="1"/>
<line x1="463.5" y1="286.17" x2="465.5" y2="286.17" stroke="#5a5a5a" stroke-width="1"/>
<line x1="278.5" y1="280.16" x2="280.5" y2="280.16" stroke="#5a5a5a" stroke-width="1"/>
<line x1="463.5" y1="280.16" x2="465.5" y2="280.16" stroke="#5a5a5a" stroke-width="1"/>
<line x1="278.5" y1="275.25" x2="280.5" y2="275.25" stroke="#5a5a5a" stroke-width="1"/>
<line x1="463.5" y1="275.25" x2="465.5" y2="275.25" stroke="#5a5a5a" stroke-width="1"/>
<line x1="278.5" y1="271.1" x2="280.5" y2="271.1" stroke="#5a5a5a" stroke-width="1"/>
<line x1="463.5" y1="271.1" x2="465.5" y2="271.1" stroke="#5a5a5a" stroke-width="1"/>
<line x1="278.5" y1="267.51" x2="280.5" y2="267.51" stroke="#5a5a5a" stroke-width="1"/>
<line x1="463.5" y1="267.51" x2="465.5" y2="267.51" stroke="#5a5a5a" stroke-width="1"/>
<line x1="278.5" y1="264.34" x2="280.5" y2="264.34" stroke="#5a5a5a" stroke-width="1"/>
<line x1="463.5" y1="264.34" x2="465.5" y2="264.34" stroke="#5a5a5a" stroke-width="1"/>
<line x1="278.5" y1="320" x2="278.5" y2="323.5" stroke="#5a5a5a" stroke-width="1"/>
<line x1="278.5" y1="13.5" x2="278.5" y2="17" stroke="#5a5a5a" stroke-width="1"/>
<line x1="325.25" y1="320" x2="325.25" y2="323.5" stroke="#5a5a5a" stroke-width="1"/>
<line x1="325.25" y1="13.5" x2="325.25" y2="17" stroke="#5a5a5a" stroke-width="1"/>
<line x1="372" y1="320" x2="372" y2="323.5" stroke="#5a5a5a" stroke-width="1"/>
<line x1="372" y1="13.5" x2="372" y2="17" stroke="#5a5a5a" stroke-width="1"/>
<line x1="418.75" y1="320" x2="418.75" y2="323.5" stroke="#5a5a5a" stroke-width="1"/>
<line x1="418.75" y1="13.5" x2="418.75" y2="17" stroke="#5a5a5a" stroke-width="1"/>
<line x1="465.5" y1="320" x2="465.5" y2="323.5" stroke="#5a5a5a" stroke-width="1"/>
<line x1="465.5" y1="13.5" x2="465.5" y2="17" stroke="#5a5a5a" stroke-width="1"/>
<path d="M278.5 276.6L325.25 210L372 143L418.75 80.6L465.5 22.3" fill="none" stroke="#55ff00" stroke-width="2.0" stroke-linejoin="round" clip-path="url(#cb)"/>
<path d="M277 274.2L280 279M277 279L280 274.2" stroke="#55ff00" stroke-width="1.7" fill="none"/>
<path d="M323.75 207.6L326.75 212.4M323.75 212.4L326.75 207.6" stroke="#55ff00" stroke-width="1.7" fill="none"/>
<path d="M370.5 140.6L373.5 145.4M370.5 145.4L373.5 140.6" stroke="#55ff00" stroke-width="1.7" fill="none"/>
<path d="M417.25 78.2L420.25 83M417.25 83L420.25 78.2" stroke="#55ff00" stroke-width="1.7" fill="none"/>
<path d="M464 19.9L467 24.7M464 24.7L467 19.9" stroke="#55ff00" stroke-width="1.7" fill="none"/>
<path d="M325.92 214.84L328.96 210.49M331.54 206.8L334.57 202.46M337.15 198.77L340.19 194.42M342.76 190.74L345.8 186.39M348.38 182.7L351.41 178.36M353.99 174.67L357.03 170.33M359.61 166.64L362.64 162.29M365.22 158.6L368.25 154.26M370.83 150.57L372 148.9L374.07 146.38M376.93 142.9L380.29 138.81M383.15 135.33L386.51 131.24M389.37 127.76L392.73 123.66M395.59 120.19L398.96 116.09M401.81 112.62L405.18 108.52M408.03 105.04L411.4 100.95M414.25 97.47L417.62 93.38M420.59 90L424.17 86.09M427.21 82.77L430.79 78.86M433.83 75.55L437.41 71.64M440.45 68.32L444.03 64.42M447.08 61.1L450.66 57.19M453.7 53.88L457.28 49.97M460.32 46.65L463.9 42.74" fill="none" stroke="#55ff00" stroke-width="2.0" stroke-linejoin="round" clip-path="url(#cb)"/>
<path d="M323.75 213.4L326.75 218.2M323.75 218.2L326.75 213.4" stroke="#55ff00" stroke-width="1.7" fill="none"/>
<path d="M370.5 146.5L373.5 151.3M370.5 151.3L373.5 146.5" stroke="#55ff00" stroke-width="1.7" fill="none"/>
<path d="M417.25 89.6L420.25 94.4M417.25 94.4L420.25 89.6" stroke="#55ff00" stroke-width="1.7" fill="none"/>
<path d="M464 38.6L467 43.4M464 43.4L467 38.6" stroke="#55ff00" stroke-width="1.7" fill="none"/>
<path d="M278.5 309.7L325.25 237L372 157L418.75 89L465.5 35.2" fill="none" stroke="#1f47ff" stroke-width="2.0" stroke-linejoin="round" clip-path="url(#cb)"/>
<path d="M278.5 305.5L281.5 311.6L275.5 311.6Z" fill="#1f47ff" fill-opacity="0.55" stroke="#1f47ff" stroke-width="2.5" stroke-linejoin="round"/>
<path d="M325.25 232.8L328.25 238.9L322.25 238.9Z" fill="#1f47ff" fill-opacity="0.55" stroke="#1f47ff" stroke-width="2.5" stroke-linejoin="round"/>
<path d="M372 152.8L375 158.9L369 158.9Z" fill="#1f47ff" fill-opacity="0.55" stroke="#1f47ff" stroke-width="2.5" stroke-linejoin="round"/>
<path d="M418.75 84.8L421.75 90.9L415.75 90.9Z" fill="#1f47ff" fill-opacity="0.55" stroke="#1f47ff" stroke-width="2.5" stroke-linejoin="round"/>
<path d="M465.5 31L468.5 37.1L462.5 37.1Z" fill="#1f47ff" fill-opacity="0.55" stroke="#1f47ff" stroke-width="2.5" stroke-linejoin="round"/>
<path d="M325.25 245L325.99 243.74M328.26 239.86L330.93 235.28M333.2 231.39L335.88 226.82M338.15 222.93L340.82 218.36M343.09 214.47L345.76 209.9M348.03 206.01L350.71 201.43M352.98 197.55L355.65 192.97M357.92 189.09L360.6 184.51M362.87 180.63L365.54 176.05M367.81 172.17L370.49 167.59M372.84 163.75L375.79 159.35M378.3 155.62L381.26 151.22M383.77 147.48L386.72 143.08M389.23 139.35L392.18 134.95M394.69 131.21L397.65 126.81M400.16 123.08L403.11 118.68M405.62 114.94L408.58 110.54M411.09 106.81L414.04 102.41M416.55 98.67L418.75 95.4L419.67 94.4M422.73 91.11L426.34 87.22M429.4 83.92L433 80.04M436.06 76.74L439.67 72.85M442.73 69.55L446.33 65.67M449.39 62.37L453 58.48M456.06 55.18L459.66 51.3M462.72 48L465.5 45" fill="none" stroke="#1f47ff" stroke-width="2.0" stroke-linejoin="round" clip-path="url(#cb)"/>
<path d="M325.25 240.8L328.25 246.9L322.25 246.9Z" fill="#1f47ff" fill-opacity="0.55" stroke="#1f47ff" stroke-width="2.5" stroke-linejoin="round"/>
<path d="M372 160.8L375 166.9L369 166.9Z" fill="#1f47ff" fill-opacity="0.55" stroke="#1f47ff" stroke-width="2.5" stroke-linejoin="round"/>
<path d="M418.75 91.2L421.75 97.3L415.75 97.3Z" fill="#1f47ff" fill-opacity="0.55" stroke="#1f47ff" stroke-width="2.5" stroke-linejoin="round"/>
<path d="M465.5 40.8L468.5 46.9L462.5 46.9Z" fill="#1f47ff" fill-opacity="0.55" stroke="#1f47ff" stroke-width="2.5" stroke-linejoin="round"/>
<path d="M278.5 302.6L325.25 231.7L372 154.4L418.75 86.25L465.5 33.4" fill="none" stroke="#ff0000" stroke-width="2.0" stroke-linejoin="round" clip-path="url(#cb)"/>
<path d="M278.5 298.6L280.9 302.6L278.5 306.6L276.1 302.6Z" fill="#ff0000" fill-opacity="0.35" stroke="#ff0000" stroke-width="1.9" stroke-linejoin="round"/>
<path d="M325.25 227.7L327.65 231.7L325.25 235.7L322.85 231.7Z" fill="#ff0000" fill-opacity="0.35" stroke="#ff0000" stroke-width="1.9" stroke-linejoin="round"/>
<path d="M372 150.4L374.4 154.4L372 158.4L369.6 154.4Z" fill="#ff0000" fill-opacity="0.35" stroke="#ff0000" stroke-width="1.9" stroke-linejoin="round"/>
<path d="M418.75 82.25L421.15 86.25L418.75 90.25L416.35 86.25Z" fill="#ff0000" fill-opacity="0.35" stroke="#ff0000" stroke-width="1.9" stroke-linejoin="round"/>
<path d="M465.5 29.4L467.9 33.4L465.5 37.4L463.1 33.4Z" fill="#ff0000" fill-opacity="0.35" stroke="#ff0000" stroke-width="1.9" stroke-linejoin="round"/>
<path d="M325.25 240L325.43 239.7M327.74 235.84L330.47 231.29M332.78 227.43L335.51 222.89M337.82 219.03L340.54 214.48M342.86 210.62L345.58 206.08M347.9 202.22L350.62 197.67M352.93 193.81L355.66 189.26M357.97 185.4L360.7 180.86M363.01 177L365.73 172.45M368.05 168.59L370.77 164.05M373.23 160.28L376.32 155.98M378.95 152.32L382.04 148.02M384.67 144.36L387.76 140.06M390.38 136.4L393.47 132.1M396.1 128.44L399.19 124.14M401.81 120.48L404.91 116.18M407.53 112.52L410.62 108.22M413.25 104.56L416.34 100.26M418.99 96.62L422.47 92.63M425.43 89.23L428.91 85.24M431.86 81.84L435.34 77.84M438.29 74.45L441.77 70.45M444.73 67.06L448.21 63.06M451.16 59.67L454.64 55.67M457.6 52.28L461.08 48.28M464.03 44.88L465.5 43.2" fill="none" stroke="#ff0000" stroke-width="2.0" stroke-linejoin="round" clip-path="url(#cb)"/>
<path d="M325.25 236L327.65 240L325.25 244L322.85 240Z" fill="#ff0000" fill-opacity="0.35" stroke="#ff0000" stroke-width="1.9" stroke-linejoin="round"/>
<path d="M372 158L374.4 162L372 166L369.6 162Z" fill="#ff0000" fill-opacity="0.35" stroke="#ff0000" stroke-width="1.9" stroke-linejoin="round"/>
<path d="M418.75 92.9L421.15 96.9L418.75 100.9L416.35 96.9Z" fill="#ff0000" fill-opacity="0.35" stroke="#ff0000" stroke-width="1.9" stroke-linejoin="round"/>
<path d="M465.5 39.2L467.9 43.2L465.5 47.2L463.1 43.2Z" fill="#ff0000" fill-opacity="0.35" stroke="#ff0000" stroke-width="1.9" stroke-linejoin="round"/>
<path d="M278.5 321.5L325.25 243L372 160L418.75 91.25L465.5 36.9" fill="none" stroke="#000000" stroke-width="2.0" stroke-linejoin="round" clip-path="url(#cb)"/>
<path d="M278.5 325.8L281.55 319.7L275.45 319.7Z" fill="#000000" fill-opacity="0.55" stroke="#000000" stroke-width="2.5" stroke-linejoin="round"/>
<path d="M325.25 247.3L328.3 241.2L322.2 241.2Z" fill="#000000" fill-opacity="0.55" stroke="#000000" stroke-width="2.5" stroke-linejoin="round"/>
<path d="M372 164.3L375.05 158.2L368.95 158.2Z" fill="#000000" fill-opacity="0.55" stroke="#000000" stroke-width="2.5" stroke-linejoin="round"/>
<path d="M418.75 95.55L421.8 89.45L415.7 89.45Z" fill="#000000" fill-opacity="0.55" stroke="#000000" stroke-width="2.5" stroke-linejoin="round"/>
<path d="M465.5 41.2L468.55 35.1L462.45 35.1Z" fill="#000000" fill-opacity="0.55" stroke="#000000" stroke-width="2.5" stroke-linejoin="round"/>
<path d="M325.3 246.91L327.98 242.33M330.25 238.45L332.92 233.87M335.19 229.99L337.87 225.41M340.14 221.53L342.81 216.95M345.08 213.07L347.75 208.49M350.03 204.6L352.7 200.03M354.97 196.14L357.64 191.57M359.91 187.68L362.59 183.11M364.86 179.22L367.53 174.64M369.8 170.76L372 167L372.54 166.23M375.14 162.55L378.19 158.21M380.78 154.53L383.83 150.2M386.42 146.52L389.47 142.19M392.06 138.51L395.11 134.17M397.7 130.49L400.75 126.16M403.34 122.48L406.4 118.15M408.99 114.47L412.04 110.13M414.63 106.45L417.68 102.12M420.49 98.62L423.99 94.63M426.95 91.25L430.45 87.26M433.41 83.88L436.91 79.9M439.88 76.51L443.37 72.53M446.34 69.15L449.83 65.16M452.8 61.78L456.3 57.79M459.26 54.41L462.76 50.43" fill="none" stroke="#000000" stroke-width="2.0" stroke-linejoin="round" clip-path="url(#cb)"/>
<path d="M325.25 251.3L328.3 245.2L322.2 245.2Z" fill="#000000" fill-opacity="0.55" stroke="#000000" stroke-width="2.5" stroke-linejoin="round"/>
<path d="M372 171.3L375.05 165.2L368.95 165.2Z" fill="#000000" fill-opacity="0.55" stroke="#000000" stroke-width="2.5" stroke-linejoin="round"/>
<path d="M418.75 104.9L421.8 98.8L415.7 98.8Z" fill="#000000" fill-opacity="0.55" stroke="#000000" stroke-width="2.5" stroke-linejoin="round"/>
<path d="M465.5 51.6L468.55 45.5L462.45 45.5Z" fill="#000000" fill-opacity="0.55" stroke="#000000" stroke-width="2.5" stroke-linejoin="round"/>
<path d="M325.25 253L325.97 251.79M328.27 247.93L330.98 243.37M333.28 239.5L335.99 234.95M338.29 231.08L341 226.53M343.3 222.66L346.01 218.1M348.31 214.24L351.02 209.68M353.32 205.81L356.03 201.26M358.33 197.39L361.04 192.83M363.34 188.97L366.04 184.41M368.35 180.54L371.05 175.99M373.56 172.25L376.67 167.97M379.31 164.32L382.43 160.04M385.07 156.39L388.19 152.1M390.83 148.46L393.94 144.17M396.59 140.53L399.7 136.24M402.34 132.6L405.46 128.31M408.1 124.67L411.21 120.38M413.86 116.74L416.97 112.45M419.7 108.87L423.1 104.81M426 101.37L429.4 97.31M432.3 93.86L435.7 89.8M438.6 86.35L442 82.29M444.9 78.85L448.3 74.79M451.2 71.34L454.6 67.28M457.5 63.83L460.9 59.77M463.8 56.33L465.5 54.3" fill="none" stroke="#9a3cff" stroke-width="2.0" stroke-linejoin="round" clip-path="url(#cb)"/>
<path d="M325.25 248.8L326.45 250.92L328.89 250.9L327.65 253L328.89 255.1L326.45 255.08L325.25 257.2L324.05 255.08L321.61 255.1L322.85 253L321.61 250.9L324.05 250.92Z" fill="#9a3cff" stroke="#9a3cff" stroke-width="0.6"/>
<path d="M372 170.2L373.2 172.32L375.64 172.3L374.4 174.4L375.64 176.5L373.2 176.48L372 178.6L370.8 176.48L368.36 176.5L369.6 174.4L368.36 172.3L370.8 172.32Z" fill="#9a3cff" stroke="#9a3cff" stroke-width="0.6"/>
<path d="M418.75 105.8L419.95 107.92L422.39 107.9L421.15 110L422.39 112.1L419.95 112.08L418.75 114.2L417.55 112.08L415.11 112.1L416.35 110L415.11 107.9L417.55 107.92Z" fill="#9a3cff" stroke="#9a3cff" stroke-width="0.6"/>
<path d="M465.5 50.1L466.7 52.22L469.14 52.2L467.9 54.3L469.14 56.4L466.7 56.38L465.5 58.5L464.3 56.38L461.86 56.4L463.1 54.3L461.86 52.2L464.3 52.22Z" fill="#9a3cff" stroke="#9a3cff" stroke-width="0.6"/>
<text x="270.1" y="18.9" font-size="9" text-anchor="end" fill="#2a2a2a" font-family="Liberation Sans, sans-serif">10</text>
<text x="275.3" y="15.3" font-size="7" text-anchor="end" fill="#2a2a2a" font-family="Liberation Sans, sans-serif">-2</text>
<text x="270.1" y="80.9" font-size="9" text-anchor="end" fill="#2a2a2a" font-family="Liberation Sans, sans-serif">10</text>
<text x="275.3" y="77.3" font-size="7" text-anchor="end" fill="#2a2a2a" font-family="Liberation Sans, sans-serif">-3</text>
<text x="270.1" y="142.9" font-size="9" text-anchor="end" fill="#2a2a2a" font-family="Liberation Sans, sans-serif">10</text>
<text x="275.3" y="139.3" font-size="7" text-anchor="end" fill="#2a2a2a" font-family="Liberation Sans, sans-serif">-4</text>
<text x="270.1" y="204.9" font-size="9" text-anchor="end" fill="#2a2a2a" font-family="Liberation Sans, sans-serif">10</text>
<text x="275.3" y="201.3" font-size="7" text-anchor="end" fill="#2a2a2a" font-family="Liberation Sans, sans-serif">-5</text>
<text x="270.1" y="266.9" font-size="9" text-anchor="end" fill="#2a2a2a" font-family="Liberation Sans, sans-serif">10</text>
<text x="275.3" y="263.3" font-size="7" text-anchor="end" fill="#2a2a2a" font-family="Liberation Sans, sans-serif">-6</text>
<text x="270.1" y="328.9" font-size="9" text-anchor="end" fill="#2a2a2a" font-family="Liberation Sans, sans-serif">10</text>
<text x="275.3" y="325.3" font-size="7" text-anchor="end" fill="#2a2a2a" font-family="Liberation Sans, sans-serif">-7</text>
<text transform="translate(278.5,336.6) scale(0.87,1)" font-size="9.3" text-anchor="middle" fill="#2a2a2a" font-family="Liberation Sans, sans-serif">9</text>
<text transform="translate(325.25,336.6) scale(0.87,1)" font-size="9.3" text-anchor="middle" fill="#2a2a2a" font-family="Liberation Sans, sans-serif">10</text>
<text transform="translate(372,336.6) scale(0.87,1)" font-size="9.3" text-anchor="middle" fill="#2a2a2a" font-family="Liberation Sans, sans-serif">11</text>
<text transform="translate(418.75,336.6) scale(0.87,1)" font-size="9.3" text-anchor="middle" fill="#2a2a2a" font-family="Liberation Sans, sans-serif">12</text>
<text transform="translate(465.5,336.6) scale(0.87,1)" font-size="9.3" text-anchor="middle" fill="#2a2a2a" font-family="Liberation Sans, sans-serif">13</text>
<text x="126.9" y="9.8" font-size="10" font-weight="bold" text-anchor="middle" fill="#000" font-family="Liberation Sans, sans-serif" stroke="#111" stroke-width="0.12">(a)</text>
<text x="372.3" y="9.8" font-size="10" font-weight="bold" text-anchor="middle" fill="#000" font-family="Liberation Sans, sans-serif" stroke="#111" stroke-width="0.12">(b)</text>
<text transform="translate(9.6,168.5) rotate(-90) scale(1,0.9)" x="0" y="0" font-size="10.2" text-anchor="middle" fill="#111111" font-family="Liberation Sans, sans-serif" stroke="#111" stroke-width="0.12">WER</text>
<text transform="translate(255.0,168.5) rotate(-90) scale(1,0.9)" x="0" y="0" font-size="10.2" text-anchor="middle" fill="#111111" font-family="Liberation Sans, sans-serif" stroke="#111" stroke-width="0.12">WER</text>
<text x="110.3" y="351.9" font-size="9.5" fill="#111111" font-family="Liberation Sans, sans-serif" stroke="#111" stroke-width="0.12" font-style="italic">σ</text>
<text transform="translate(116.8,356.2) scale(0.8,1)" font-size="8.8" fill="#111111" font-family="Liberation Sans, sans-serif" stroke="#111" stroke-width="0.12">0</text>
<text x="119.9" y="350.3" font-size="7.5" fill="#111111" font-family="Liberation Sans, sans-serif" stroke="#111" stroke-width="0.12">/</text>
<text x="124.1" y="351.9" font-size="9.5" fill="#111111" font-family="Liberation Sans, sans-serif" stroke="#111" stroke-width="0.12" font-style="italic">μ</text>
<text transform="translate(130.1,356.2) scale(0.8,1)" font-size="8.8" fill="#111111" font-family="Liberation Sans, sans-serif" stroke="#111" stroke-width="0.12">0</text>
<text x="134.6" y="351.9" font-size="9.1" fill="#111111" font-family="Liberation Sans, sans-serif" stroke="#111" stroke-width="0.12">(%)</text>
<text x="352.3" y="351.9" font-size="9.5" fill="#111111" font-family="Liberation Sans, sans-serif" stroke="#111" stroke-width="0.12" font-style="italic">σ</text>
<text transform="translate(358.8,356.2) scale(0.8,1)" font-size="8.8" fill="#111111" font-family="Liberation Sans, sans-serif" stroke="#111" stroke-width="0.12">0</text>
<text x="361.9" y="350.3" font-size="7.5" fill="#111111" font-family="Liberation Sans, sans-serif" stroke="#111" stroke-width="0.12">/</text>
<text x="366.1" y="351.9" font-size="9.5" fill="#111111" font-family="Liberation Sans, sans-serif" stroke="#111" stroke-width="0.12" font-style="italic">μ</text>
<text transform="translate(372.1,356.2) scale(0.8,1)" font-size="8.8" fill="#111111" font-family="Liberation Sans, sans-serif" stroke="#111" stroke-width="0.12">0</text>
<text x="376.6" y="351.9" font-size="9.1" fill="#111111" font-family="Liberation Sans, sans-serif" stroke="#111" stroke-width="0.12">(%)</text>
<rect x="60.5" y="28.5" width="66" height="58" fill="#fff"/>
<line x1="60.5" y1="77.76" x2="126.5" y2="77.76" stroke="#d9d9d9" stroke-width="1" stroke-dasharray="1 1.5"/>
<line x1="60.5" y1="61.5" x2="126.5" y2="61.5" stroke="#d9d9d9" stroke-width="1" stroke-dasharray="1 1.5"/>
<line x1="60.5" y1="55.69" x2="126.5" y2="55.69" stroke="#d9d9d9" stroke-width="1" stroke-dasharray="1 1.5"/>
<line x1="60.5" y1="50.79" x2="126.5" y2="50.79" stroke="#d9d9d9" stroke-width="1" stroke-dasharray="1 1.5"/>
<line x1="60.5" y1="42.79" x2="126.5" y2="42.79" stroke="#d9d9d9" stroke-width="1" stroke-dasharray="1 1.5"/>
<line x1="60.5" y1="39.43" x2="126.5" y2="39.43" stroke="#d9d9d9" stroke-width="1" stroke-dasharray="1 1.5"/>
<line x1="60.5" y1="36.4" x2="126.5" y2="36.4" stroke="#d9d9d9" stroke-width="1" stroke-dasharray="1 1.5"/>
<line x1="60.5" y1="31.08" x2="126.5" y2="31.08" stroke="#d9d9d9" stroke-width="1" stroke-dasharray="1 1.5"/>
<line x1="60.5" y1="68.6" x2="126.5" y2="68.6" stroke="#e0e0e0" stroke-width="1"/>
<line x1="60.5" y1="46.53" x2="126.5" y2="46.53" stroke="#e0e0e0" stroke-width="1"/>
<line x1="60.5" y1="33.63" x2="126.5" y2="33.63" stroke="#e0e0e0" stroke-width="1"/>
<line x1="92.5" y1="28.5" x2="92.5" y2="86.5" stroke="#e0e0e0" stroke-width="1"/>
<rect x="60.5" y="28.5" width="66" height="58" fill="none" stroke="#5a5a5a" stroke-width="1"/>
<line x1="60.5" y1="68.6" x2="63.5" y2="68.6" stroke="#5a5a5a" stroke-width="1"/>
<line x1="123.5" y1="68.6" x2="126.5" y2="68.6" stroke="#5a5a5a" stroke-width="1"/>
<line x1="60.5" y1="46.53" x2="63.5" y2="46.53" stroke="#5a5a5a" stroke-width="1"/>
<line x1="123.5" y1="46.53" x2="126.5" y2="46.53" stroke="#5a5a5a" stroke-width="1"/>
<line x1="60.5" y1="33.63" x2="63.5" y2="33.63" stroke="#5a5a5a" stroke-width="1"/>
<line x1="123.5" y1="33.63" x2="126.5" y2="33.63" stroke="#5a5a5a" stroke-width="1"/>
<line x1="60.5" y1="77.76" x2="62.3" y2="77.76" stroke="#5a5a5a" stroke-width="1"/>
<line x1="124.7" y1="77.76" x2="126.5" y2="77.76" stroke="#5a5a5a" stroke-width="1"/>
<line x1="60.5" y1="61.5" x2="62.3" y2="61.5" stroke="#5a5a5a" stroke-width="1"/>
<line x1="124.7" y1="61.5" x2="126.5" y2="61.5" stroke="#5a5a5a" stroke-width="1"/>
<line x1="60.5" y1="55.69" x2="62.3" y2="55.69" stroke="#5a5a5a" stroke-width="1"/>
<line x1="124.7" y1="55.69" x2="126.5" y2="55.69" stroke="#5a5a5a" stroke-width="1"/>
<line x1="60.5" y1="50.79" x2="62.3" y2="50.79" stroke="#5a5a5a" stroke-width="1"/>
<line x1="124.7" y1="50.79" x2="126.5" y2="50.79" stroke="#5a5a5a" stroke-width="1"/>
<line x1="60.5" y1="42.79" x2="62.3" y2="42.79" stroke="#5a5a5a" stroke-width="1"/>
<line x1="124.7" y1="42.79" x2="126.5" y2="42.79" stroke="#5a5a5a" stroke-width="1"/>
<line x1="60.5" y1="39.43" x2="62.3" y2="39.43" stroke="#5a5a5a" stroke-width="1"/>
<line x1="124.7" y1="39.43" x2="126.5" y2="39.43" stroke="#5a5a5a" stroke-width="1"/>
<line x1="60.5" y1="36.4" x2="62.3" y2="36.4" stroke="#5a5a5a" stroke-width="1"/>
<line x1="124.7" y1="36.4" x2="126.5" y2="36.4" stroke="#5a5a5a" stroke-width="1"/>
<line x1="60.5" y1="31.08" x2="62.3" y2="31.08" stroke="#5a5a5a" stroke-width="1"/>
<line x1="124.7" y1="31.08" x2="126.5" y2="31.08" stroke="#5a5a5a" stroke-width="1"/>
<line x1="92.5" y1="83.5" x2="92.5" y2="86.5" stroke="#5a5a5a" stroke-width="1"/>
<line x1="92.5" y1="28.5" x2="92.5" y2="31.5" stroke="#5a5a5a" stroke-width="1"/>
<path d="M60.5 38L126.5 22.9" fill="none" stroke="#55ff00" stroke-width="2.0" stroke-linejoin="round" clip-path="url(#cia)"/>
<path d="M91 28.28L94 33.08M91 33.08L94 28.28" stroke="#55ff00" stroke-width="1.7" fill="none"/>
<path d="M60.5 77.4L64.78 76.45M69.56 75.39L74.84 74.23M79.62 73.17L84.89 72M89.68 70.95L94.95 69.78M99.73 68.72L105.01 67.55M109.79 66.5L115.06 65.33M119.85 64.27L125.12 63.11" fill="none" stroke="#55ff00" stroke-width="2.0" stroke-linejoin="round" clip-path="url(#cia)"/>
<path d="M91 67.92L94 72.72M91 72.72L94 67.92" stroke="#55ff00" stroke-width="1.7" fill="none"/>
<path d="M60.5 77.7L126.5 60.2" fill="none" stroke="#1f47ff" stroke-width="2.0" stroke-linejoin="round" clip-path="url(#cia)"/>
<path d="M92.5 65.02L95.5 71.12L89.5 71.12Z" fill="#1f47ff" fill-opacity="0.55" stroke="#1f47ff" stroke-width="2.5" stroke-linejoin="round"/>
<path d="M61.09 84.65L66.33 83.34M71.08 82.15L76.32 80.85M81.07 79.66L86.31 78.35M91.07 77.16L96.3 75.85M101.06 74.66L106.3 73.35M111.05 72.16L116.29 70.85M121.04 69.66L126.28 68.35" fill="none" stroke="#1f47ff" stroke-width="2.0" stroke-linejoin="round" clip-path="url(#cia)"/>
<path d="M92.5 72.6L95.5 78.7L89.5 78.7Z" fill="#1f47ff" fill-opacity="0.55" stroke="#1f47ff" stroke-width="2.5" stroke-linejoin="round"/>
<path d="M60.5 73.5L126.5 55.6" fill="none" stroke="#ff0000" stroke-width="2.0" stroke-linejoin="round" clip-path="url(#cia)"/>
<path d="M92.5 60.82L94.9 64.82L92.5 68.82L90.1 64.82Z" fill="#ff0000" fill-opacity="0.35" stroke="#ff0000" stroke-width="1.9" stroke-linejoin="round"/>
<path d="M60.5 80.6L64.82 79.53M69.58 78.34L74.82 77.04M79.58 75.86L84.82 74.56M89.57 73.38L94.81 72.07M99.57 70.89L104.81 69.59M109.56 68.41L114.8 67.11M119.56 65.92L124.8 64.62" fill="none" stroke="#ff0000" stroke-width="2.0" stroke-linejoin="round" clip-path="url(#cia)"/>
<path d="M92.5 68.65L94.9 72.65L92.5 76.65L90.1 72.65Z" fill="#ff0000" fill-opacity="0.35" stroke="#ff0000" stroke-width="1.9" stroke-linejoin="round"/>
<path d="M60.5 82.7L126.5 65" fill="none" stroke="#000000" stroke-width="2.0" stroke-linejoin="round" clip-path="url(#cia)"/>
<path d="M92.5 78.42L95.55 72.32L89.45 72.32Z" fill="#000000" fill-opacity="0.55" stroke="#000000" stroke-width="2.5" stroke-linejoin="round"/>
<path d="M60.5 88.6L63.5 87.88M67.78 86.86L73.22 85.55M77.5 84.53L82.95 83.23M87.23 82.2L92.67 80.9M96.95 79.87L102.4 78.57M106.68 77.55L112.12 76.24M116.4 75.22L121.85 73.91M126.13 72.89L126.5 72.8" fill="none" stroke="#000000" stroke-width="2.0" stroke-linejoin="round" clip-path="url(#cia)"/>
<path d="M92.5 85.24L95.55 79.14L89.45 79.14Z" fill="#000000" fill-opacity="0.55" stroke="#000000" stroke-width="2.5" stroke-linejoin="round"/>
<text x="56.7" y="73.4" font-size="10.5" text-anchor="end" fill="#2a2a2a" font-family="Liberation Sans, sans-serif">2</text>
<text x="56.7" y="51.33" font-size="10.5" text-anchor="end" fill="#2a2a2a" font-family="Liberation Sans, sans-serif">4</text>
<text x="56.7" y="38.43" font-size="10.5" text-anchor="end" fill="#2a2a2a" font-family="Liberation Sans, sans-serif">6</text>
<text x="92.5" y="101.8" font-size="10.5" text-anchor="middle" fill="#2a2a2a" font-family="Liberation Sans, sans-serif">11</text>
<text x="61" y="25.9" font-size="11.5" fill="#111111" font-family="Liberation Sans, sans-serif" stroke="#111" stroke-width="0.12">×</text>
<text x="68.5" y="26.1" font-size="10.9" fill="#111111" font-family="Liberation Sans, sans-serif" stroke="#111" stroke-width="0.12">10</text>
<text x="80.4" y="21.3" font-size="8.5" fill="#111111" font-family="Liberation Sans, sans-serif" stroke="#111" stroke-width="0.12">-</text>
<text x="83" y="20.8" font-size="9.2" fill="#111111" font-family="Liberation Sans, sans-serif" stroke="#111" stroke-width="0.12">4</text>
<rect x="295.5" y="28.5" width="64" height="57" fill="#fff"/>
<line x1="295.5" y1="79.56" x2="359.5" y2="79.56" stroke="#d9d9d9" stroke-width="1" stroke-dasharray="1 1.5"/>
<line x1="295.5" y1="58.96" x2="359.5" y2="58.96" stroke="#d9d9d9" stroke-width="1" stroke-dasharray="1 1.5"/>
<line x1="295.5" y1="51.12" x2="359.5" y2="51.12" stroke="#d9d9d9" stroke-width="1" stroke-dasharray="1 1.5"/>
<line x1="295.5" y1="44.34" x2="359.5" y2="44.34" stroke="#d9d9d9" stroke-width="1" stroke-dasharray="1 1.5"/>
<line x1="295.5" y1="38.35" x2="359.5" y2="38.35" stroke="#d9d9d9" stroke-width="1" stroke-dasharray="1 1.5"/>
<line x1="295.5" y1="68.22" x2="359.5" y2="68.22" stroke="#e0e0e0" stroke-width="1"/>
<line x1="295.5" y1="33" x2="359.5" y2="33" stroke="#e0e0e0" stroke-width="1"/>
<line x1="318" y1="28.5" x2="318" y2="85.5" stroke="#e0e0e0" stroke-width="1"/>
<rect x="295.5" y="28.5" width="64" height="57" fill="none" stroke="#5a5a5a" stroke-width="1"/>
<line x1="295.5" y1="68.22" x2="298.5" y2="68.22" stroke="#5a5a5a" stroke-width="1"/>
<line x1="356.5" y1="68.22" x2="359.5" y2="68.22" stroke="#5a5a5a" stroke-width="1"/>
<line x1="295.5" y1="33" x2="298.5" y2="33" stroke="#5a5a5a" stroke-width="1"/>
<line x1="356.5" y1="33" x2="359.5" y2="33" stroke="#5a5a5a" stroke-width="1"/>
<line x1="295.5" y1="79.56" x2="297.3" y2="79.56" stroke="#5a5a5a" stroke-width="1"/>
<line x1="357.7" y1="79.56" x2="359.5" y2="79.56" stroke="#5a5a5a" stroke-width="1"/>
<line x1="295.5" y1="58.96" x2="297.3" y2="58.96" stroke="#5a5a5a" stroke-width="1"/>
<line x1="357.7" y1="58.96" x2="359.5" y2="58.96" stroke="#5a5a5a" stroke-width="1"/>
<line x1="295.5" y1="51.12" x2="297.3" y2="51.12" stroke="#5a5a5a" stroke-width="1"/>
<line x1="357.7" y1="51.12" x2="359.5" y2="51.12" stroke="#5a5a5a" stroke-width="1"/>
<line x1="295.5" y1="44.34" x2="297.3" y2="44.34" stroke="#5a5a5a" stroke-width="1"/>
<line x1="357.7" y1="44.34" x2="359.5" y2="44.34" stroke="#5a5a5a" stroke-width="1"/>
<line x1="295.5" y1="38.35" x2="297.3" y2="38.35" stroke="#5a5a5a" stroke-width="1"/>
<line x1="357.7" y1="38.35" x2="359.5" y2="38.35" stroke="#5a5a5a" stroke-width="1"/>
<line x1="318" y1="82.5" x2="318" y2="85.5" stroke="#5a5a5a" stroke-width="1"/>
<line x1="318" y1="28.5" x2="318" y2="31.5" stroke="#5a5a5a" stroke-width="1"/>
<path d="M295.5 44.6L359.5 41.1" fill="none" stroke="#55ff00" stroke-width="2.0" stroke-linejoin="round" clip-path="url(#cib)"/>
<path d="M316.5 40.97L319.5 45.77M316.5 45.77L319.5 40.97" stroke="#55ff00" stroke-width="1.7" fill="none"/>
<path d="M295.5 58.4L299.75 58.13M304.64 57.83L309.83 57.5M314.72 57.2L319.91 56.87M324.81 56.57L329.99 56.24M334.89 55.94L340.08 55.61M344.97 55.31L350.16 54.98M355.05 54.68L359.5 54.4" fill="none" stroke="#55ff00" stroke-width="2.0" stroke-linejoin="round" clip-path="url(#cib)"/>
<path d="M316.5 54.59L319.5 59.39M316.5 59.39L319.5 54.59" stroke="#55ff00" stroke-width="1.7" fill="none"/>
<path d="M295.5 71.5L359.5 67.3" fill="none" stroke="#1f47ff" stroke-width="2.0" stroke-linejoin="round" clip-path="url(#cib)"/>
<path d="M318 65.82L321 71.92L315 71.92Z" fill="#1f47ff" fill-opacity="0.55" stroke="#1f47ff" stroke-width="2.5" stroke-linejoin="round"/>
<path d="M295.5 78.3L300.25 78.01M305.14 77.71L310.33 77.4M315.22 77.1L320.41 76.78M325.3 76.48L330.5 76.17M335.39 75.87L340.58 75.55M345.47 75.26L350.66 74.94M355.55 74.64L359.5 74.4" fill="none" stroke="#1f47ff" stroke-width="2.0" stroke-linejoin="round" clip-path="url(#cib)"/>
<path d="M318 72.73L321 78.83L315 78.83Z" fill="#1f47ff" fill-opacity="0.55" stroke="#1f47ff" stroke-width="2.5" stroke-linejoin="round"/>
<path d="M295.5 69.1L359.5 65.1" fill="none" stroke="#ff0000" stroke-width="2.0" stroke-linejoin="round" clip-path="url(#cib)"/>
<path d="M318 63.69L320.4 67.69L318 71.69L315.6 67.69Z" fill="#ff0000" fill-opacity="0.35" stroke="#ff0000" stroke-width="1.9" stroke-linejoin="round"/>
<path d="M295.5 75.4L299.74 75.17M304.63 74.91L309.82 74.64M314.72 74.38L319.91 74.1M324.8 73.84L330 73.57M334.89 73.31L340.08 73.03M344.98 72.77L350.17 72.5M355.06 72.24L359.5 72" fill="none" stroke="#ff0000" stroke-width="2.0" stroke-linejoin="round" clip-path="url(#cib)"/>
<path d="M318 70.2L320.4 74.2L318 78.2L315.6 74.2Z" fill="#ff0000" fill-opacity="0.35" stroke="#ff0000" stroke-width="1.9" stroke-linejoin="round"/>
<path d="M295.5 75.7L359.5 72.2" fill="none" stroke="#000000" stroke-width="2.0" stroke-linejoin="round" clip-path="url(#cib)"/>
<path d="M318 78.77L321.05 72.67L314.95 72.67Z" fill="#000000" fill-opacity="0.55" stroke="#000000" stroke-width="2.5" stroke-linejoin="round"/>
<path d="M295.5 80.7L299.74 80.47M304.63 80.21L309.82 79.94M314.72 79.68L319.91 79.4M324.8 79.14L330 78.87M334.89 78.61L340.08 78.33M344.98 78.07L350.17 77.8M355.06 77.54L359.5 77.3" fill="none" stroke="#000000" stroke-width="2.0" stroke-linejoin="round" clip-path="url(#cib)"/>
<path d="M318 83.8L321.05 77.7L314.95 77.7Z" fill="#000000" fill-opacity="0.55" stroke="#000000" stroke-width="2.5" stroke-linejoin="round"/>
<text x="291.7" y="73.02" font-size="10.5" text-anchor="end" fill="#2a2a2a" font-family="Liberation Sans, sans-serif">5</text>
<text x="291.7" y="37.8" font-size="10.5" text-anchor="end" fill="#2a2a2a" font-family="Liberation Sans, sans-serif">10</text>
<text x="318" y="100.8" font-size="10.5" text-anchor="middle" fill="#2a2a2a" font-family="Liberation Sans, sans-serif">11</text>
<text x="295.6" y="25.9" font-size="11.5" fill="#111111" font-family="Liberation Sans, sans-serif" stroke="#111" stroke-width="0.12">×</text>
<text x="303.1" y="26.1" font-size="10.9" fill="#111111" font-family="Liberation Sans, sans-serif" stroke="#111" stroke-width="0.12">10</text>
<text x="315" y="21.3" font-size="8.5" fill="#111111" font-family="Liberation Sans, sans-serif" stroke="#111" stroke-width="0.12">-</text>
<text x="317.6" y="20.8" font-size="9.2" fill="#111111" font-family="Liberation Sans, sans-serif" stroke="#111" stroke-width="0.12">5</text>
<line x1="126.8" y1="46.3" x2="160.09" y2="69.75" stroke="#1a1a1a" stroke-width="0.9"/>
<path d="M165 73.2L154.81 71.16L160.09 69.75L159.65 64.3Z" fill="#000"/>
<line x1="359.8" y1="59.5" x2="370.53" y2="132.66" stroke="#1a1a1a" stroke-width="0.9"/>
<path d="M371.4 138.6L365.87 129.81L370.53 132.66L374.18 128.59Z" fill="#000"/>
<rect x="132" y="131.5" width="106.5" height="192" fill="#fff" stroke="#6e6e6e" stroke-width="1"/>
<line x1="134.4" y1="143.86" x2="159.6" y2="143.86" stroke="#55ff00" stroke-width="2.0"/>
<path d="M145.6 141.46L148.6 146.26M145.6 146.26L148.6 141.46" stroke="#55ff00" stroke-width="1.7" fill="none"/>
<text x="162" y="141.76" font-size="8.4" fill="#111111" font-family="Liberation Sans, sans-serif" stroke="#111" stroke-width="0.12">1. Union bound,</text>
<text x="162" y="153.66" font-size="8.4" fill="#111111" font-family="Liberation Sans, sans-serif" stroke="#111" stroke-width="0.12">with MMI quantizer</text>
<line x1="134.4" y1="167.58" x2="139.6" y2="167.58" stroke="#55ff00" stroke-width="2.0"/>
<line x1="154.4" y1="167.58" x2="159.6" y2="167.58" stroke="#55ff00" stroke-width="2.0"/>
<path d="M145.6 165.18L148.6 169.98M145.6 169.98L148.6 165.18" stroke="#55ff00" stroke-width="1.7" fill="none"/>
<text x="162" y="165.48" font-size="8.4" fill="#111111" font-family="Liberation Sans, sans-serif" stroke="#111" stroke-width="0.12">2. BCJR Simulation,</text>
<text x="162" y="177.38" font-size="8.4" fill="#111111" font-family="Liberation Sans, sans-serif" stroke="#111" stroke-width="0.12">with MMI quantizer</text>
<line x1="134.4" y1="191.3" x2="159.6" y2="191.3" stroke="#1f47ff" stroke-width="2.0"/>
<path d="M147.1 187.1L150.1 193.2L144.1 193.2Z" fill="#1f47ff" fill-opacity="0.55" stroke="#1f47ff" stroke-width="2.5" stroke-linejoin="round"/>
<text x="162" y="189.2" font-size="8.4" fill="#111111" font-family="Liberation Sans, sans-serif" stroke="#111" stroke-width="0.12">3. Union bound,</text>
<text x="162" y="201.1" font-size="8.4" fill="#111111" font-family="Liberation Sans, sans-serif" stroke="#111" stroke-width="0.12">with MCR quantizer</text>
<line x1="134.4" y1="215.02" x2="139.6" y2="215.02" stroke="#1f47ff" stroke-width="2.0"/>
<line x1="154.4" y1="215.02" x2="159.6" y2="215.02" stroke="#1f47ff" stroke-width="2.0"/>
<path d="M147.1 210.82L150.1 216.92L144.1 216.92Z" fill="#1f47ff" fill-opacity="0.55" stroke="#1f47ff" stroke-width="2.5" stroke-linejoin="round"/>
<text x="162" y="212.92" font-size="8.4" fill="#111111" font-family="Liberation Sans, sans-serif" stroke="#111" stroke-width="0.12">4. BCJR Simulation,</text>
<text x="162" y="224.82" font-size="8.4" fill="#111111" font-family="Liberation Sans, sans-serif" stroke="#111" stroke-width="0.12">with MCR quantizer</text>
<line x1="134.4" y1="238.74" x2="159.6" y2="238.74" stroke="#ff0000" stroke-width="2.0"/>
<path d="M147.1 234.74L149.5 238.74L147.1 242.74L144.7 238.74Z" fill="#ff0000" fill-opacity="0.35" stroke="#ff0000" stroke-width="1.9" stroke-linejoin="round"/>
<text x="162" y="236.64" font-size="8.4" fill="#111111" font-family="Liberation Sans, sans-serif" stroke="#111" stroke-width="0.12">5. Union bound,</text>
<text x="162" y="248.54" font-size="8.4" fill="#111111" font-family="Liberation Sans, sans-serif" stroke="#111" stroke-width="0.12">with PPVB quantizer</text>
<line x1="134.4" y1="262.46" x2="139.6" y2="262.46" stroke="#ff0000" stroke-width="2.0"/>
<line x1="154.4" y1="262.46" x2="159.6" y2="262.46" stroke="#ff0000" stroke-width="2.0"/>
<path d="M147.1 258.46L149.5 262.46L147.1 266.46L144.7 262.46Z" fill="#ff0000" fill-opacity="0.35" stroke="#ff0000" stroke-width="1.9" stroke-linejoin="round"/>
<text x="162" y="260.36" font-size="8.4" fill="#111111" font-family="Liberation Sans, sans-serif" stroke="#111" stroke-width="0.12">6. BCJR Simulation,</text>
<text x="162" y="272.26" font-size="8.4" fill="#111111" font-family="Liberation Sans, sans-serif" stroke="#111" stroke-width="0.12">with PPVB quantizer</text>
<line x1="134.4" y1="286.18" x2="159.6" y2="286.18" stroke="#000000" stroke-width="2.0"/>
<path d="M147.1 290.48L150.15 284.38L144.05 284.38Z" fill="#000000" fill-opacity="0.55" stroke="#000000" stroke-width="2.5" stroke-linejoin="round"/>
<text x="162" y="284.08" font-size="8.4" fill="#111111" font-family="Liberation Sans, sans-serif" stroke="#111" stroke-width="0.12">7. Union bound,</text>
<text x="162" y="295.98" font-size="8.4" fill="#111111" font-family="Liberation Sans, sans-serif" stroke="#111" stroke-width="0.12">with UBO quantizer</text>
<line x1="134.4" y1="309.9" x2="139.6" y2="309.9" stroke="#000000" stroke-width="2.0"/>
<line x1="154.4" y1="309.9" x2="159.6" y2="309.9" stroke="#000000" stroke-width="2.0"/>
<path d="M147.1 314.2L150.15 308.1L144.05 308.1Z" fill="#000000" fill-opacity="0.55" stroke="#000000" stroke-width="2.5" stroke-linejoin="round"/>
<text x="162" y="307.8" font-size="8.4" fill="#111111" font-family="Liberation Sans, sans-serif" stroke="#111" stroke-width="0.12">8. BCJR Simulation,</text>
<text x="162" y="319.7" font-size="8.4" fill="#111111" font-family="Liberation Sans, sans-serif" stroke="#111" stroke-width="0.12">with UBO quantizer</text>
<rect x="375.5" y="107.5" width="106.5" height="216" fill="#fff" stroke="#6e6e6e" stroke-width="1"/>
<line x1="377.9" y1="120.14" x2="403.1" y2="120.14" stroke="#55ff00" stroke-width="2.0"/>
<path d="M389.1 117.74L392.1 122.54M389.1 122.54L392.1 117.74" stroke="#55ff00" stroke-width="1.7" fill="none"/>
<text x="405.5" y="118.04" font-size="8.4" fill="#111111" font-family="Liberation Sans, sans-serif" stroke="#111" stroke-width="0.12">1. Union bound,</text>
<text x="405.5" y="129.94" font-size="8.4" fill="#111111" font-family="Liberation Sans, sans-serif" stroke="#111" stroke-width="0.12">with MMI quantizer</text>
<line x1="377.9" y1="143.86" x2="383.1" y2="143.86" stroke="#55ff00" stroke-width="2.0"/>
<line x1="397.9" y1="143.86" x2="403.1" y2="143.86" stroke="#55ff00" stroke-width="2.0"/>
<path d="M389.1 141.46L392.1 146.26M389.1 146.26L392.1 141.46" stroke="#55ff00" stroke-width="1.7" fill="none"/>
<text x="405.5" y="141.76" font-size="8.4" fill="#111111" font-family="Liberation Sans, sans-serif" stroke="#111" stroke-width="0.12">2. BCJR Simulation,</text>
<text x="405.5" y="153.66" font-size="8.4" fill="#111111" font-family="Liberation Sans, sans-serif" stroke="#111" stroke-width="0.12">with MMI quantizer</text>
<line x1="377.9" y1="167.58" x2="403.1" y2="167.58" stroke="#1f47ff" stroke-width="2.0"/>
<path d="M390.6 163.38L393.6 169.48L387.6 169.48Z" fill="#1f47ff" fill-opacity="0.55" stroke="#1f47ff" stroke-width="2.5" stroke-linejoin="round"/>
<text x="405.5" y="165.48" font-size="8.4" fill="#111111" font-family="Liberation Sans, sans-serif" stroke="#111" stroke-width="0.12">3. Union bound,</text>
<text x="405.5" y="177.38" font-size="8.4" fill="#111111" font-family="Liberation Sans, sans-serif" stroke="#111" stroke-width="0.12">with MCR quantizer</text>
<line x1="377.9" y1="191.3" x2="383.1" y2="191.3" stroke="#1f47ff" stroke-width="2.0"/>
<line x1="397.9" y1="191.3" x2="403.1" y2="191.3" stroke="#1f47ff" stroke-width="2.0"/>
<path d="M390.6 187.1L393.6 193.2L387.6 193.2Z" fill="#1f47ff" fill-opacity="0.55" stroke="#1f47ff" stroke-width="2.5" stroke-linejoin="round"/>
<text x="405.5" y="189.2" font-size="8.4" fill="#111111" font-family="Liberation Sans, sans-serif" stroke="#111" stroke-width="0.12">4. BCJR Simulation,</text>
<text x="405.5" y="201.1" font-size="8.4" fill="#111111" font-family="Liberation Sans, sans-serif" stroke="#111" stroke-width="0.12">with MCR quantizer</text>
<line x1="377.9" y1="215.02" x2="403.1" y2="215.02" stroke="#ff0000" stroke-width="2.0"/>
<path d="M390.6 211.02L393 215.02L390.6 219.02L388.2 215.02Z" fill="#ff0000" fill-opacity="0.35" stroke="#ff0000" stroke-width="1.9" stroke-linejoin="round"/>
<text x="405.5" y="212.92" font-size="8.4" fill="#111111" font-family="Liberation Sans, sans-serif" stroke="#111" stroke-width="0.12">5. Union bound,</text>
<text x="405.5" y="224.82" font-size="8.4" fill="#111111" font-family="Liberation Sans, sans-serif" stroke="#111" stroke-width="0.12">with PPVB quantizer</text>
<line x1="377.9" y1="238.74" x2="383.1" y2="238.74" stroke="#ff0000" stroke-width="2.0"/>
<line x1="397.9" y1="238.74" x2="403.1" y2="238.74" stroke="#ff0000" stroke-width="2.0"/>
<path d="M390.6 234.74L393 238.74L390.6 242.74L388.2 238.74Z" fill="#ff0000" fill-opacity="0.35" stroke="#ff0000" stroke-width="1.9" stroke-linejoin="round"/>
<text x="405.5" y="236.64" font-size="8.4" fill="#111111" font-family="Liberation Sans, sans-serif" stroke="#111" stroke-width="0.12">6. BCJR Simulation,</text>
<text x="405.5" y="248.54" font-size="8.4" fill="#111111" font-family="Liberation Sans, sans-serif" stroke="#111" stroke-width="0.12">with PPVB quantizer</text>
<line x1="377.9" y1="262.46" x2="403.1" y2="262.46" stroke="#000000" stroke-width="2.0"/>
<path d="M390.6 266.76L393.65 260.66L387.55 260.66Z" fill="#000000" fill-opacity="0.55" stroke="#000000" stroke-width="2.5" stroke-linejoin="round"/>
<text x="405.5" y="260.36" font-size="8.4" fill="#111111" font-family="Liberation Sans, sans-serif" stroke="#111" stroke-width="0.12">7. Union bound,</text>
<text x="405.5" y="272.26" font-size="8.4" fill="#111111" font-family="Liberation Sans, sans-serif" stroke="#111" stroke-width="0.12">with UBO quantizer</text>
<line x1="377.9" y1="286.18" x2="383.1" y2="286.18" stroke="#000000" stroke-width="2.0"/>
<line x1="397.9" y1="286.18" x2="403.1" y2="286.18" stroke="#000000" stroke-width="2.0"/>
<path d="M390.6 290.48L393.65 284.38L387.55 284.38Z" fill="#000000" fill-opacity="0.55" stroke="#000000" stroke-width="2.5" stroke-linejoin="round"/>
<text x="405.5" y="284.08" font-size="8.4" fill="#111111" font-family="Liberation Sans, sans-serif" stroke="#111" stroke-width="0.12">8. BCJR Simulation,</text>
<text x="405.5" y="295.98" font-size="8.4" fill="#111111" font-family="Liberation Sans, sans-serif" stroke="#111" stroke-width="0.12">with UBO quantizer</text>
<line x1="377.9" y1="309.9" x2="383.1" y2="309.9" stroke="#9a3cff" stroke-width="2.0"/>
<line x1="397.9" y1="309.9" x2="403.1" y2="309.9" stroke="#9a3cff" stroke-width="2.0"/>
<path d="M390.6 305.7L391.8 307.82L394.24 307.8L393 309.9L394.24 312L391.8 311.98L390.6 314.1L389.4 311.98L386.96 312L388.2 309.9L386.96 307.8L389.4 307.82Z" fill="#9a3cff" stroke="#9a3cff" stroke-width="0.6"/>
<text x="405.5" y="307.8" font-size="8.4" fill="#111111" font-family="Liberation Sans, sans-serif" stroke="#111" stroke-width="0.12">9. BCJR Simulation,</text>
<text x="405.5" y="319.7" font-size="8.4" fill="#111111" font-family="Liberation Sans, sans-serif" stroke="#111" stroke-width="0.12">with full soft info.</text>
</svg>
</body></html>
